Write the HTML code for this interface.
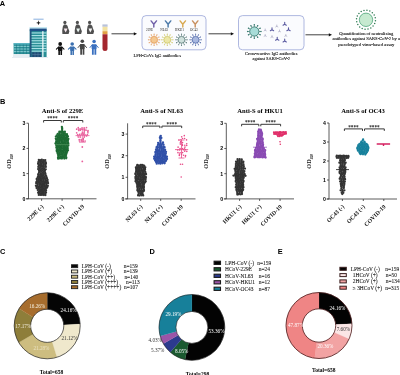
<!DOCTYPE html>
<html><head><meta charset="utf-8"><style>
html,body{margin:0;padding:0;background:#fff;width:400px;height:375px;overflow:hidden}
svg{display:block;filter:blur(0.25px)}
</style></head><body>
<svg width="400" height="375" viewBox="0 0 400 375">
<rect width="400" height="375" fill="#fff"/>
<text x="-0.3" y="5.9" font-size="7.4" fill="#000" font-weight="bold" font-family='"Liberation Sans", sans-serif' text-anchor="start" >A</text>
<text x="0" y="104.4" font-size="7.4" fill="#000" font-weight="bold" font-family='"Liberation Sans", sans-serif' text-anchor="start" >B</text>
<text x="0" y="253.9" font-size="7.4" fill="#000" font-weight="bold" font-family='"Liberation Sans", sans-serif' text-anchor="start" >C</text>
<text x="149.5" y="253.8" font-size="7.4" fill="#000" font-weight="bold" font-family='"Liberation Sans", sans-serif' text-anchor="start" >D</text>
<text x="277.8" y="254" font-size="7.4" fill="#000" font-weight="bold" font-family='"Liberation Sans", sans-serif' text-anchor="start" >E</text>
<rect x="13.6" y="43.2" width="18.8" height="11" fill="#2a8f96"/>
<rect x="13.6" y="43.2" width="18.8" height="1.3" fill="#5fb8c8"/>
<rect x="13.6" y="45.9" width="18.8" height="0.8" fill="#9fdce0"/>
<rect x="13.6" y="48.6" width="18.8" height="0.8" fill="#9fdce0"/>
<rect x="13.6" y="51.3" width="18.8" height="0.8" fill="#9fdce0"/>
<rect x="16.5" y="44.5" width="0.5" height="9.7" fill="#1a6f80"/>
<rect x="19.7" y="44.5" width="0.5" height="9.7" fill="#1a6f80"/>
<rect x="22.9" y="44.5" width="0.5" height="9.7" fill="#1a6f80"/>
<rect x="26.1" y="44.5" width="0.5" height="9.7" fill="#1a6f80"/>
<rect x="29.3" y="44.5" width="0.5" height="9.7" fill="#1a6f80"/>
<rect x="13" y="54.2" width="20" height="2.8" fill="#e6eef2"/>
<rect x="29.8" y="29.3" width="16.8" height="27.7" fill="#2a8f96"/>
<rect x="29.8" y="29.3" width="1.8" height="27.7" fill="#24557e"/>
<rect x="29.5" y="27.4" width="17.5" height="1.2" fill="#9fd8e8"/>
<rect x="29.8" y="28.6" width="16.8" height="2.6" fill="#1f4f86"/>
<rect x="31.6" y="32.4" width="15" height="1.1" fill="#a8e0e4"/>
<rect x="31.6" y="35.0" width="15" height="1.1" fill="#a8e0e4"/>
<rect x="31.6" y="37.6" width="15" height="1.1" fill="#a8e0e4"/>
<rect x="31.6" y="40.2" width="15" height="1.1" fill="#a8e0e4"/>
<rect x="31.6" y="42.8" width="15" height="1.1" fill="#a8e0e4"/>
<rect x="31.6" y="45.4" width="15" height="1.1" fill="#a8e0e4"/>
<rect x="31.6" y="48.0" width="15" height="1.1" fill="#a8e0e4"/>
<rect x="31.6" y="50.599999999999994" width="15" height="1.1" fill="#a8e0e4"/>
<rect x="42.2" y="31.2" width="1.3" height="25.8" fill="#eef8fa"/>
<rect x="32.2" y="52.2" width="9" height="4.8" fill="#1f4a74"/>
<path d="M35 52.2 v4.8 M38 52.2 v4.8 M32.2 54.5 h9" stroke="#6a90b0" stroke-width="0.4"/>
<path d="M33.4 19.2 h10.2" stroke="#6a9ad8" stroke-width="0.8"/>
<path d="M38.5 21.2 l1.3 1.6 l-1.3 1.6 l-1.3 -1.6z" fill="#222"/>
<path d="M36.4 22.8 h4.2 M38.5 20.6 v4.4" stroke="#222" stroke-width="0.5"/>
<rect x="12" y="57" width="36" height="0.7" fill="#dde6ee"/>
<ellipse cx="64.9" cy="22.4" rx="1.6" ry="1.75" fill="#505050"/>
<path d="M64.0 24.4 L66.0 24.4 L67.5 25.8 L68.2 28.3 L69.4 31.2 L68.60000000000001 34.1 L62.400000000000006 34.1 L62.2 30.5 L62.900000000000006 26.2 Z" fill="#505050"/>
<path d="M63.800000000000004 28.6 L67.5 28.6 L66.7 30.6 L65.60000000000001 32.6 L64.60000000000001 30.6 Z" fill="#f8e8ee"/>
<ellipse cx="77.4" cy="22.4" rx="1.6" ry="1.75" fill="#505050"/>
<path d="M76.5 24.4 L78.5 24.4 L80.0 25.8 L80.7 28.3 L81.9 31.2 L81.10000000000001 34.1 L74.9 34.1 L74.7 30.5 L75.4 26.2 Z" fill="#505050"/>
<path d="M76.30000000000001 28.6 L80.0 28.6 L79.2 30.6 L78.10000000000001 32.6 L77.10000000000001 30.6 Z" fill="#eaf6f2"/>
<ellipse cx="89.6" cy="22.4" rx="1.6" ry="1.75" fill="#505050"/>
<path d="M88.69999999999999 24.4 L90.69999999999999 24.4 L92.19999999999999 25.8 L92.89999999999999 28.3 L94.1 31.2 L93.3 34.1 L87.1 34.1 L86.89999999999999 30.5 L87.6 26.2 Z" fill="#505050"/>
<path d="M88.5 28.6 L92.19999999999999 28.6 L91.39999999999999 30.6 L90.3 32.6 L89.3 30.6 Z" fill="#f6f6f6"/>
<g fill="#111"><circle cx="60.2" cy="44.0" r="1.9"/><rect x="58.0" y="46.4" width="4.4" height="4.600000000000001" rx="0.8"/><path d="M58.5 47.1 L56.400000000000006 49.2 M61.900000000000006 47.1 L64.0 49.2" stroke="#111" stroke-width="1.1" fill="none" stroke-linecap="round"/><rect x="58.35" y="50.5" width="1.584" height="4.5" rx="0.3"/><rect x="60.466" y="50.5" width="1.584" height="4.5" rx="0.3"/></g>
<g fill="#3a6fb0"><circle cx="72.2" cy="44.0" r="1.8"/><rect x="70.10000000000001" y="46.4" width="4.2" height="4.600000000000001" rx="0.8"/><path d="M70.60000000000001 47.1 L68.4 49.2 M73.8 47.1 L76.0 49.2" stroke="#3a6fb0" stroke-width="1.1" fill="none" stroke-linecap="round"/><rect x="70.45" y="50.5" width="1.512" height="4.5" rx="0.3"/><rect x="72.438" y="50.5" width="1.512" height="4.5" rx="0.3"/></g>
<g fill="#454545"><circle cx="82.3" cy="41.2" r="1.8"/><rect x="79.89999999999999" y="44.1" width="4.8" height="5.100000000000001" rx="0.8"/><path d="M80.39999999999999 44.800000000000004 L78.1 47.5 M84.2 44.800000000000004 L86.5 47.5" stroke="#454545" stroke-width="1.0" fill="none" stroke-linecap="round"/><rect x="80.24999999999999" y="48.7" width="1.728" height="6.0" rx="0.3"/><rect x="82.62200000000001" y="48.7" width="1.728" height="6.0" rx="0.3"/></g>
<g fill="#3a70c0"><circle cx="94.1" cy="41.5" r="1.8"/><rect x="91.6" y="44.3" width="5.0" height="4.900000000000006" rx="0.8"/><path d="M92.1 45.0 L90.0 47.5 M96.1 45.0 L98.19999999999999 47.5" stroke="#3a70c0" stroke-width="1.0" fill="none" stroke-linecap="round"/><rect x="91.94999999999999" y="48.7" width="1.7999999999999998" height="6.0" rx="0.3"/><rect x="94.45" y="48.7" width="1.7999999999999998" height="6.0" rx="0.3"/></g>
<rect x="102.4" y="24.4" width="5.2" height="2.4" fill="#b8c2da"/>
<rect x="102.5" y="26.8" width="5" height="4.4" fill="#f2e2a2"/>
<rect x="102.5" y="31.2" width="5" height="3" fill="#e2a244"/>
<path d="M102.5 34.2 h5 v14.3 a2.5 2.5 0 0 1 -5 0z" fill="#a4262e"/>
<line x1="111.5" y1="33.8" x2="134.5" y2="33.8" stroke="#111" stroke-width="0.8"/><path d="M137 33.8 l-3.2 -1.6 v3.2z" fill="#111"/>
<line x1="208.5" y1="33.8" x2="231.5" y2="33.8" stroke="#111" stroke-width="0.8"/><path d="M234 33.8 l-3.2 -1.6 v3.2z" fill="#111"/>
<line x1="305.5" y1="34.8" x2="329.5" y2="34.8" stroke="#111" stroke-width="0.8"/><path d="M332 34.8 l-3.2 -1.6 v3.2z" fill="#111"/>
<rect x="142" y="15.6" width="64" height="34.2" rx="4" fill="#fafbfe" stroke="#9aa6d8" stroke-width="0.8"/>
<rect x="238.5" y="15.6" width="65.5" height="34.2" rx="4" fill="#fafbfe" stroke="#9aa6d8" stroke-width="0.8"/>
<path d="M151.10000000000002 20.9 L153.8 24.2 L156.5 20.9 M153.8 24.2 V27.099999999999998" stroke="#7060a8" stroke-width="1.45" fill="none" stroke-linecap="round" stroke-linejoin="round"/>
<text x="146.0" y="31.0" font-size="3.3" fill="#222" font-weight="normal" font-family='"Liberation Serif", serif' text-anchor="start" >229E</text>
<path d="M165.4 20.9 L168.1 24.2 L170.79999999999998 20.9 M168.1 24.2 V27.099999999999998" stroke="#4a78a8" stroke-width="1.45" fill="none" stroke-linecap="round" stroke-linejoin="round"/>
<text x="160.29999999999998" y="31.0" font-size="3.3" fill="#222" font-weight="normal" font-family='"Liberation Serif", serif' text-anchor="start" >NL63</text>
<path d="M180.10000000000002 20.9 L182.8 24.2 L185.5 20.9 M182.8 24.2 V27.099999999999998" stroke="#d8a850" stroke-width="1.45" fill="none" stroke-linecap="round" stroke-linejoin="round"/>
<text x="175.0" y="31.0" font-size="3.3" fill="#222" font-weight="normal" font-family='"Liberation Serif", serif' text-anchor="start" >HKU1</text>
<path d="M192.5 20.9 L195.2 24.2 L197.89999999999998 20.9 M195.2 24.2 V27.099999999999998" stroke="#c89060" stroke-width="1.45" fill="none" stroke-linecap="round" stroke-linejoin="round"/>
<text x="189.89999999999998" y="31.0" font-size="3.3" fill="#222" font-weight="normal" font-family='"Liberation Serif", serif' text-anchor="start" >OC43</text>
<path d="M157.50 39.80 L159.80 39.80 M157.04 41.50 L159.04 42.65 M155.80 42.74 L156.95 44.74 M154.10 43.20 L154.10 45.50 M152.40 42.74 L151.25 44.74 M151.16 41.50 L149.16 42.65 M150.70 39.80 L148.40 39.80 M151.16 38.10 L149.16 36.95 M152.40 36.86 L151.25 34.86 M154.10 36.40 L154.10 34.10 M155.80 36.86 L156.95 34.86 M157.04 38.10 L159.04 36.95" stroke="#e39a5a" stroke-width="0.6" fill="none"/>
<circle cx="159.80" cy="39.80" r="0.55" fill="#e39a5a"/>
<circle cx="159.04" cy="42.65" r="0.55" fill="#e39a5a"/>
<circle cx="156.95" cy="44.74" r="0.55" fill="#e39a5a"/>
<circle cx="154.10" cy="45.50" r="0.55" fill="#e39a5a"/>
<circle cx="151.25" cy="44.74" r="0.55" fill="#e39a5a"/>
<circle cx="149.16" cy="42.65" r="0.55" fill="#e39a5a"/>
<circle cx="148.40" cy="39.80" r="0.55" fill="#e39a5a"/>
<circle cx="149.16" cy="36.95" r="0.55" fill="#e39a5a"/>
<circle cx="151.25" cy="34.86" r="0.55" fill="#e39a5a"/>
<circle cx="154.10" cy="34.10" r="0.55" fill="#e39a5a"/>
<circle cx="156.95" cy="34.86" r="0.55" fill="#e39a5a"/>
<circle cx="159.04" cy="36.95" r="0.55" fill="#e39a5a"/>
<circle cx="154.1" cy="39.8" r="3.4" fill="#f4c890" stroke="#e39a5a" stroke-width="0.78"/>
<path d="M170.70 39.80 L173.00 39.80 M170.24 41.50 L172.24 42.65 M169.00 42.74 L170.15 44.74 M167.30 43.20 L167.30 45.50 M165.60 42.74 L164.45 44.74 M164.36 41.50 L162.36 42.65 M163.90 39.80 L161.60 39.80 M164.36 38.10 L162.36 36.95 M165.60 36.86 L164.45 34.86 M167.30 36.40 L167.30 34.10 M169.00 36.86 L170.15 34.86 M170.24 38.10 L172.24 36.95" stroke="#cfc86a" stroke-width="0.6" fill="none"/>
<circle cx="173.00" cy="39.80" r="0.55" fill="#cfc86a"/>
<circle cx="172.24" cy="42.65" r="0.55" fill="#cfc86a"/>
<circle cx="170.15" cy="44.74" r="0.55" fill="#cfc86a"/>
<circle cx="167.30" cy="45.50" r="0.55" fill="#cfc86a"/>
<circle cx="164.45" cy="44.74" r="0.55" fill="#cfc86a"/>
<circle cx="162.36" cy="42.65" r="0.55" fill="#cfc86a"/>
<circle cx="161.60" cy="39.80" r="0.55" fill="#cfc86a"/>
<circle cx="162.36" cy="36.95" r="0.55" fill="#cfc86a"/>
<circle cx="164.45" cy="34.86" r="0.55" fill="#cfc86a"/>
<circle cx="167.30" cy="34.10" r="0.55" fill="#cfc86a"/>
<circle cx="170.15" cy="34.86" r="0.55" fill="#cfc86a"/>
<circle cx="172.24" cy="36.95" r="0.55" fill="#cfc86a"/>
<circle cx="167.3" cy="39.8" r="3.4" fill="#ece7a8" stroke="#cfc86a" stroke-width="0.78"/>
<path d="M184.90 39.80 L187.20 39.80 M184.44 41.50 L186.44 42.65 M183.20 42.74 L184.35 44.74 M181.50 43.20 L181.50 45.50 M179.80 42.74 L178.65 44.74 M178.56 41.50 L176.56 42.65 M178.10 39.80 L175.80 39.80 M178.56 38.10 L176.56 36.95 M179.80 36.86 L178.65 34.86 M181.50 36.40 L181.50 34.10 M183.20 36.86 L184.35 34.86 M184.44 38.10 L186.44 36.95" stroke="#5a7a78" stroke-width="0.6" fill="none"/>
<circle cx="187.20" cy="39.80" r="0.55" fill="#5a7a78"/>
<circle cx="186.44" cy="42.65" r="0.55" fill="#5a7a78"/>
<circle cx="184.35" cy="44.74" r="0.55" fill="#5a7a78"/>
<circle cx="181.50" cy="45.50" r="0.55" fill="#5a7a78"/>
<circle cx="178.65" cy="44.74" r="0.55" fill="#5a7a78"/>
<circle cx="176.56" cy="42.65" r="0.55" fill="#5a7a78"/>
<circle cx="175.80" cy="39.80" r="0.55" fill="#5a7a78"/>
<circle cx="176.56" cy="36.95" r="0.55" fill="#5a7a78"/>
<circle cx="178.65" cy="34.86" r="0.55" fill="#5a7a78"/>
<circle cx="181.50" cy="34.10" r="0.55" fill="#5a7a78"/>
<circle cx="184.35" cy="34.86" r="0.55" fill="#5a7a78"/>
<circle cx="186.44" cy="36.95" r="0.55" fill="#5a7a78"/>
<circle cx="181.5" cy="39.8" r="3.4" fill="#cfe0dc" stroke="#5a7a78" stroke-width="0.78"/>
<path d="M199.00 39.80 L201.30 39.80 M198.54 41.50 L200.54 42.65 M197.30 42.74 L198.45 44.74 M195.60 43.20 L195.60 45.50 M193.90 42.74 L192.75 44.74 M192.66 41.50 L190.66 42.65 M192.20 39.80 L189.90 39.80 M192.66 38.10 L190.66 36.95 M193.90 36.86 L192.75 34.86 M195.60 36.40 L195.60 34.10 M197.30 36.86 L198.45 34.86 M198.54 38.10 L200.54 36.95" stroke="#5068a8" stroke-width="0.6" fill="none"/>
<circle cx="201.30" cy="39.80" r="0.55" fill="#5068a8"/>
<circle cx="200.54" cy="42.65" r="0.55" fill="#5068a8"/>
<circle cx="198.45" cy="44.74" r="0.55" fill="#5068a8"/>
<circle cx="195.60" cy="45.50" r="0.55" fill="#5068a8"/>
<circle cx="192.75" cy="44.74" r="0.55" fill="#5068a8"/>
<circle cx="190.66" cy="42.65" r="0.55" fill="#5068a8"/>
<circle cx="189.90" cy="39.80" r="0.55" fill="#5068a8"/>
<circle cx="190.66" cy="36.95" r="0.55" fill="#5068a8"/>
<circle cx="192.75" cy="34.86" r="0.55" fill="#5068a8"/>
<circle cx="195.60" cy="34.10" r="0.55" fill="#5068a8"/>
<circle cx="198.45" cy="34.86" r="0.55" fill="#5068a8"/>
<circle cx="200.54" cy="36.95" r="0.55" fill="#5068a8"/>
<circle cx="195.6" cy="39.8" r="3.4" fill="#a8b8e0" stroke="#5068a8" stroke-width="0.78"/>
<text x="133.6" y="57.3" font-size="4.45" fill="#000" font-weight="normal" font-family='"Liberation Serif", serif' text-anchor="start" stroke="#000" stroke-width="0.08">LPH-CoVs IgG antibodies</text>
<path d="M258.90 31.50 L261.00 31.50 M258.28 33.80 L260.10 34.85 M256.60 35.48 L257.65 37.30 M254.30 36.10 L254.30 38.20 M252.00 35.48 L250.95 37.30 M250.32 33.80 L248.50 34.85 M249.70 31.50 L247.60 31.50 M250.32 29.20 L248.50 28.15 M252.00 27.52 L250.95 25.70 M254.30 26.90 L254.30 24.80 M256.60 27.52 L257.65 25.70 M258.28 29.20 L260.10 28.15" stroke="#3a7a70" stroke-width="0.7" fill="none"/>
<circle cx="261.00" cy="31.50" r="0.75" fill="#3a7a70"/>
<circle cx="260.10" cy="34.85" r="0.75" fill="#3a7a70"/>
<circle cx="257.65" cy="37.30" r="0.75" fill="#3a7a70"/>
<circle cx="254.30" cy="38.20" r="0.75" fill="#3a7a70"/>
<circle cx="250.95" cy="37.30" r="0.75" fill="#3a7a70"/>
<circle cx="248.50" cy="34.85" r="0.75" fill="#3a7a70"/>
<circle cx="247.60" cy="31.50" r="0.75" fill="#3a7a70"/>
<circle cx="248.50" cy="28.15" r="0.75" fill="#3a7a70"/>
<circle cx="250.95" cy="25.70" r="0.75" fill="#3a7a70"/>
<circle cx="254.30" cy="24.80" r="0.75" fill="#3a7a70"/>
<circle cx="257.65" cy="25.70" r="0.75" fill="#3a7a70"/>
<circle cx="260.10" cy="28.15" r="0.75" fill="#3a7a70"/>
<circle cx="254.3" cy="31.5" r="4.6" fill="#a8dcd8" stroke="#3a7a70" stroke-width="0.9099999999999999"/>
<path d="M265.20 30.20 L265.20 28.93 M265.20 30.20 L266.30 30.83 M265.20 30.20 L264.10 30.83" stroke="#b0b0c8" stroke-width="0.73" stroke-linecap="round" fill="none"/>
<path d="M272.00 29.70 L272.00 27.80 M272.00 29.70 L273.65 30.65 M272.00 29.70 L270.35 30.65" stroke="#5a5aa0" stroke-width="1.10" stroke-linecap="round" fill="none"/>
<path d="M276.80 26.30 L276.80 25.03 M276.80 26.30 L277.90 26.93 M276.80 26.30 L275.70 26.93" stroke="#b0b0c8" stroke-width="0.73" stroke-linecap="round" fill="none"/>
<path d="M284.70 24.20 L284.70 22.30 M284.70 24.20 L286.35 25.15 M284.70 24.20 L283.05 25.15" stroke="#5a5aa0" stroke-width="1.10" stroke-linecap="round" fill="none"/>
<path d="M279.50 31.20 L279.50 29.93 M279.50 31.20 L280.60 31.83 M279.50 31.20 L278.40 31.83" stroke="#b0b0c8" stroke-width="0.73" stroke-linecap="round" fill="none"/>
<path d="M288.50 29.70 L288.50 27.80 M288.50 29.70 L290.15 30.65 M288.50 29.70 L286.85 30.65" stroke="#5a5aa0" stroke-width="1.10" stroke-linecap="round" fill="none"/>
<path d="M265.20 35.70 L265.20 34.43 M265.20 35.70 L266.30 36.33 M265.20 35.70 L264.10 36.33" stroke="#b0b0c8" stroke-width="0.73" stroke-linecap="round" fill="none"/>
<path d="M272.00 36.80 L272.00 35.53 M272.00 36.80 L273.10 37.43 M272.00 36.80 L270.90 37.43" stroke="#b0b0c8" stroke-width="0.73" stroke-linecap="round" fill="none"/>
<path d="M277.20 39.20 L277.20 37.30 M277.20 39.20 L278.85 40.15 M277.20 39.20 L275.55 40.15" stroke="#5a5aa0" stroke-width="1.10" stroke-linecap="round" fill="none"/>
<path d="M285.80 35.70 L285.80 34.43 M285.80 35.70 L286.90 36.33 M285.80 35.70 L284.70 36.33" stroke="#b0b0c8" stroke-width="0.73" stroke-linecap="round" fill="none"/>
<path d="M284.70 41.00 L284.70 39.10 M284.70 41.00 L286.35 41.95 M284.70 41.00 L283.05 41.95" stroke="#5a5aa0" stroke-width="1.10" stroke-linecap="round" fill="none"/>
<text x="271.3" y="54.8" font-size="4.4" fill="#000" font-weight="normal" font-family='"Liberation Serif", serif' text-anchor="middle" stroke="#000" stroke-width="0.08">Cross-reactive IgG antibodies</text>
<text x="271.3" y="60.2" font-size="4.4" fill="#000" font-weight="normal" font-family='"Liberation Serif", serif' text-anchor="middle" stroke="#000" stroke-width="0.08">against SARS-CoV-2</text>
<circle cx="366" cy="19.8" r="6.7" fill="#c6ead0" stroke="#3a9a6a" stroke-width="0.7"/>
<circle cx="375.45" cy="20.75" r="0.75" fill="#2f7a52"/>
<circle cx="374.70" cy="23.62" r="0.75" fill="#2f7a52"/>
<circle cx="373.09" cy="26.12" r="0.75" fill="#2f7a52"/>
<circle cx="370.79" cy="28.00" r="0.75" fill="#2f7a52"/>
<circle cx="368.02" cy="29.08" r="0.75" fill="#2f7a52"/>
<circle cx="365.05" cy="29.25" r="0.75" fill="#2f7a52"/>
<circle cx="362.18" cy="28.50" r="0.75" fill="#2f7a52"/>
<circle cx="359.68" cy="26.89" r="0.75" fill="#2f7a52"/>
<circle cx="357.80" cy="24.59" r="0.75" fill="#2f7a52"/>
<circle cx="356.72" cy="21.82" r="0.75" fill="#2f7a52"/>
<circle cx="356.55" cy="18.85" r="0.75" fill="#2f7a52"/>
<circle cx="357.30" cy="15.98" r="0.75" fill="#2f7a52"/>
<circle cx="358.91" cy="13.48" r="0.75" fill="#2f7a52"/>
<circle cx="361.21" cy="11.60" r="0.75" fill="#2f7a52"/>
<circle cx="363.98" cy="10.52" r="0.75" fill="#2f7a52"/>
<circle cx="366.95" cy="10.35" r="0.75" fill="#2f7a52"/>
<circle cx="369.82" cy="11.10" r="0.75" fill="#2f7a52"/>
<circle cx="372.32" cy="12.71" r="0.75" fill="#2f7a52"/>
<circle cx="374.20" cy="15.01" r="0.75" fill="#2f7a52"/>
<circle cx="375.28" cy="17.78" r="0.75" fill="#2f7a52"/>
<text x="366.2" y="34.7" font-size="4.55" fill="#000" font-weight="normal" font-family='"Liberation Serif", serif' text-anchor="middle" stroke="#000" stroke-width="0.08">Quantification of neutralizing</text>
<text x="366.2" y="40.3" font-size="4.55" fill="#000" font-weight="normal" font-family='"Liberation Serif", serif' text-anchor="middle" stroke="#000" stroke-width="0.08">antibodies against SARS-CoV-2 by a</text>
<text x="366.2" y="45.9" font-size="4.55" fill="#000" font-weight="normal" font-family='"Liberation Serif", serif' text-anchor="middle" stroke="#000" stroke-width="0.08">pseudotyped virus-based assay</text>
<path d="M28.5 123.3 V198.8 M26.0 198.8 H96.5" stroke="#333" stroke-width="0.8" fill="none"/>
<line x1="26.5" y1="198.8" x2="28.5" y2="198.8" stroke="#333" stroke-width="0.8"/>
<text x="25.3" y="200.70000000000002" font-size="5.2" fill="#000" font-weight="bold" font-family='"Liberation Sans", sans-serif' text-anchor="end" >0</text>
<line x1="26.5" y1="173.60000000000002" x2="28.5" y2="173.60000000000002" stroke="#333" stroke-width="0.8"/>
<text x="25.3" y="175.50000000000003" font-size="5.2" fill="#000" font-weight="bold" font-family='"Liberation Sans", sans-serif' text-anchor="end" >1</text>
<line x1="26.5" y1="148.4" x2="28.5" y2="148.4" stroke="#333" stroke-width="0.8"/>
<text x="25.3" y="150.3" font-size="5.2" fill="#000" font-weight="bold" font-family='"Liberation Sans", sans-serif' text-anchor="end" >2</text>
<line x1="26.5" y1="123.20000000000002" x2="28.5" y2="123.20000000000002" stroke="#333" stroke-width="0.8"/>
<text x="25.3" y="125.10000000000002" font-size="5.2" fill="#000" font-weight="bold" font-family='"Liberation Sans", sans-serif' text-anchor="end" >3</text>
<line x1="41.6" y1="198.8" x2="41.6" y2="200.8" stroke="#333" stroke-width="0.8"/>
<line x1="62.1" y1="198.8" x2="62.1" y2="200.8" stroke="#333" stroke-width="0.8"/>
<line x1="82.3" y1="198.8" x2="82.3" y2="200.8" stroke="#333" stroke-width="0.8"/>
<text x="62.5" y="113.2" font-size="6.6" fill="#000" font-weight="bold" font-family='"Liberation Serif", serif' text-anchor="middle" >Anti-S of 229E</text>
<path d="M43.6 122.5 V120.5 H61.300000000000004 V122.5" stroke="#222" stroke-width="0.9" fill="none"/>
<text x="52.45" y="120.1" font-size="5.2" fill="#222" font-weight="bold" font-family='"Liberation Serif", serif' text-anchor="middle" >****</text>
<path d="M63.300000000000004 122.5 V120.5 H82.8 V122.5" stroke="#222" stroke-width="0.9" fill="none"/>
<text x="73.05" y="120.1" font-size="5.2" fill="#222" font-weight="bold" font-family='"Liberation Serif", serif' text-anchor="middle" >****</text>
<text transform="translate(43.800000000000004,207.0) rotate(-45)" font-size="5.9" font-weight="bold" font-family='"Liberation Serif", serif' text-anchor="end" fill="#111">229E (-)</text>
<text transform="translate(64.3,207.0) rotate(-45)" font-size="5.9" font-weight="bold" font-family='"Liberation Serif", serif' text-anchor="end" fill="#111">229E (+)</text>
<text transform="translate(84.5,207.0) rotate(-45)" font-size="5.9" font-weight="bold" font-family='"Liberation Serif", serif' text-anchor="end" fill="#111">COVID-19</text>
<text transform="translate(11.2,161.3) rotate(-90)" font-size="6.3" font-weight="bold" font-family='"Liberation Serif", serif' text-anchor="middle" fill="#111">OD<tspan font-size="3.5" dy="1.3">450</tspan></text>
<g fill="#333333"><circle cx="38.83" cy="159.88" r="1.15"/><circle cx="40.33" cy="160.08" r="1.15"/><circle cx="41.80" cy="159.77" r="1.15"/><circle cx="43.61" cy="160.14" r="1.15"/><circle cx="45.27" cy="160.12" r="1.15"/><circle cx="39.10" cy="160.93" r="1.15"/><circle cx="40.47" cy="161.39" r="1.15"/><circle cx="41.86" cy="161.13" r="1.15"/><circle cx="43.41" cy="161.14" r="1.15"/><circle cx="44.97" cy="161.03" r="1.15"/><circle cx="38.29" cy="162.09" r="1.15"/><circle cx="40.23" cy="162.40" r="1.15"/><circle cx="42.25" cy="162.51" r="1.15"/><circle cx="43.72" cy="162.44" r="1.15"/><circle cx="45.82" cy="162.29" r="1.15"/><circle cx="38.08" cy="163.54" r="1.15"/><circle cx="40.26" cy="163.50" r="1.15"/><circle cx="41.77" cy="163.36" r="1.15"/><circle cx="43.87" cy="163.33" r="1.15"/><circle cx="45.92" cy="163.58" r="1.15"/><circle cx="38.57" cy="164.79" r="1.15"/><circle cx="40.23" cy="164.65" r="1.15"/><circle cx="41.77" cy="164.76" r="1.15"/><circle cx="43.77" cy="164.60" r="1.15"/><circle cx="45.44" cy="164.90" r="1.15"/><circle cx="39.05" cy="165.68" r="1.15"/><circle cx="40.66" cy="165.86" r="1.15"/><circle cx="41.88" cy="165.84" r="1.15"/><circle cx="43.32" cy="165.96" r="1.15"/><circle cx="45.32" cy="165.94" r="1.15"/><circle cx="38.28" cy="166.94" r="1.15"/><circle cx="40.31" cy="167.01" r="1.15"/><circle cx="42.00" cy="166.97" r="1.15"/><circle cx="43.80" cy="167.00" r="1.15"/><circle cx="45.80" cy="166.96" r="1.15"/><circle cx="39.53" cy="168.18" r="1.15"/><circle cx="42.15" cy="168.29" r="1.15"/><circle cx="44.19" cy="168.31" r="1.15"/><circle cx="38.10" cy="169.06" r="1.15"/><circle cx="40.05" cy="169.11" r="1.15"/><circle cx="41.92" cy="169.09" r="1.15"/><circle cx="43.84" cy="169.14" r="1.15"/><circle cx="45.76" cy="169.28" r="1.15"/><circle cx="39.01" cy="170.41" r="1.15"/><circle cx="40.93" cy="170.27" r="1.15"/><circle cx="42.92" cy="170.32" r="1.15"/><circle cx="44.91" cy="170.23" r="1.15"/><circle cx="39.29" cy="171.46" r="1.15"/><circle cx="41.15" cy="171.65" r="1.15"/><circle cx="43.18" cy="171.78" r="1.15"/><circle cx="44.68" cy="171.70" r="1.15"/><circle cx="38.97" cy="172.86" r="1.15"/><circle cx="40.92" cy="173.03" r="1.15"/><circle cx="42.88" cy="172.97" r="1.15"/><circle cx="45.16" cy="172.91" r="1.15"/><circle cx="38.26" cy="174.14" r="1.15"/><circle cx="40.41" cy="174.19" r="1.15"/><circle cx="41.84" cy="174.14" r="1.15"/><circle cx="43.85" cy="173.96" r="1.15"/><circle cx="45.42" cy="173.81" r="1.15"/><circle cx="38.40" cy="174.92" r="1.15"/><circle cx="40.18" cy="175.12" r="1.15"/><circle cx="42.19" cy="175.32" r="1.15"/><circle cx="43.57" cy="175.03" r="1.15"/><circle cx="45.58" cy="175.04" r="1.15"/><circle cx="38.11" cy="176.50" r="1.15"/><circle cx="39.76" cy="176.37" r="1.15"/><circle cx="41.43" cy="176.15" r="1.15"/><circle cx="42.60" cy="176.11" r="1.15"/><circle cx="44.29" cy="176.41" r="1.15"/><circle cx="46.23" cy="176.21" r="1.15"/><circle cx="37.66" cy="177.49" r="1.15"/><circle cx="39.48" cy="177.26" r="1.15"/><circle cx="40.90" cy="177.21" r="1.15"/><circle cx="43.09" cy="177.59" r="1.15"/><circle cx="44.64" cy="177.50" r="1.15"/><circle cx="46.46" cy="177.48" r="1.15"/><circle cx="36.72" cy="178.80" r="1.15"/><circle cx="38.77" cy="178.58" r="1.15"/><circle cx="40.42" cy="178.77" r="1.15"/><circle cx="42.09" cy="178.40" r="1.15"/><circle cx="43.91" cy="178.38" r="1.15"/><circle cx="45.69" cy="178.57" r="1.15"/><circle cx="47.00" cy="178.48" r="1.15"/><circle cx="36.85" cy="179.71" r="1.15"/><circle cx="38.64" cy="179.66" r="1.15"/><circle cx="40.21" cy="179.57" r="1.15"/><circle cx="41.77" cy="179.52" r="1.15"/><circle cx="43.68" cy="179.82" r="1.15"/><circle cx="45.47" cy="179.55" r="1.15"/><circle cx="47.59" cy="180.00" r="1.15"/><circle cx="37.06" cy="181.17" r="1.15"/><circle cx="38.76" cy="181.01" r="1.15"/><circle cx="40.35" cy="180.83" r="1.15"/><circle cx="41.79" cy="180.82" r="1.15"/><circle cx="43.64" cy="181.01" r="1.15"/><circle cx="45.55" cy="180.88" r="1.15"/><circle cx="46.91" cy="180.84" r="1.15"/><circle cx="36.43" cy="182.01" r="1.15"/><circle cx="38.13" cy="182.14" r="1.15"/><circle cx="39.42" cy="181.96" r="1.15"/><circle cx="41.24" cy="181.88" r="1.15"/><circle cx="42.85" cy="181.99" r="1.15"/><circle cx="44.34" cy="182.27" r="1.15"/><circle cx="45.91" cy="182.24" r="1.15"/><circle cx="47.70" cy="181.93" r="1.15"/><circle cx="36.20" cy="183.16" r="1.15"/><circle cx="37.75" cy="183.46" r="1.15"/><circle cx="39.64" cy="183.08" r="1.15"/><circle cx="40.91" cy="183.16" r="1.15"/><circle cx="43.00" cy="183.46" r="1.15"/><circle cx="44.68" cy="183.35" r="1.15"/><circle cx="46.22" cy="183.08" r="1.15"/><circle cx="48.04" cy="183.13" r="1.15"/><circle cx="37.60" cy="184.44" r="1.15"/><circle cx="39.44" cy="184.39" r="1.15"/><circle cx="41.01" cy="184.30" r="1.15"/><circle cx="42.98" cy="184.38" r="1.15"/><circle cx="44.51" cy="184.34" r="1.15"/><circle cx="46.37" cy="184.30" r="1.15"/><circle cx="35.92" cy="185.64" r="1.15"/><circle cx="37.44" cy="185.59" r="1.15"/><circle cx="39.49" cy="185.55" r="1.15"/><circle cx="41.25" cy="185.45" r="1.15"/><circle cx="42.85" cy="185.44" r="1.15"/><circle cx="44.62" cy="185.78" r="1.15"/><circle cx="46.20" cy="185.65" r="1.15"/><circle cx="47.82" cy="185.59" r="1.15"/><circle cx="36.63" cy="186.93" r="1.15"/><circle cx="38.16" cy="186.92" r="1.15"/><circle cx="39.74" cy="186.86" r="1.15"/><circle cx="41.39" cy="186.94" r="1.15"/><circle cx="42.82" cy="186.58" r="1.15"/><circle cx="44.22" cy="186.78" r="1.15"/><circle cx="45.71" cy="186.83" r="1.15"/><circle cx="47.43" cy="186.75" r="1.15"/><circle cx="36.69" cy="188.15" r="1.15"/><circle cx="38.68" cy="187.79" r="1.15"/><circle cx="40.54" cy="187.72" r="1.15"/><circle cx="42.17" cy="187.98" r="1.15"/><circle cx="43.66" cy="188.12" r="1.15"/><circle cx="45.33" cy="188.06" r="1.15"/><circle cx="46.91" cy="187.82" r="1.15"/><circle cx="38.24" cy="188.88" r="1.15"/><circle cx="39.56" cy="188.88" r="1.15"/><circle cx="41.08" cy="189.19" r="1.15"/><circle cx="42.64" cy="189.04" r="1.15"/><circle cx="44.46" cy="189.12" r="1.15"/><circle cx="45.84" cy="188.96" r="1.15"/><circle cx="37.76" cy="190.11" r="1.15"/><circle cx="39.58" cy="190.38" r="1.15"/><circle cx="41.17" cy="190.23" r="1.15"/><circle cx="42.99" cy="190.27" r="1.15"/><circle cx="44.46" cy="190.03" r="1.15"/><circle cx="46.09" cy="190.35" r="1.15"/><circle cx="38.89" cy="191.63" r="1.15"/><circle cx="40.38" cy="191.43" r="1.15"/><circle cx="42.00" cy="191.32" r="1.15"/><circle cx="43.37" cy="191.36" r="1.15"/><circle cx="45.14" cy="191.34" r="1.15"/><circle cx="38.14" cy="192.63" r="1.15"/><circle cx="39.92" cy="192.31" r="1.15"/><circle cx="42.05" cy="192.75" r="1.15"/><circle cx="43.93" cy="192.80" r="1.15"/><circle cx="46.02" cy="192.51" r="1.15"/><circle cx="38.89" cy="193.55" r="1.15"/><circle cx="41.01" cy="193.65" r="1.15"/><circle cx="42.95" cy="193.68" r="1.15"/><circle cx="45.19" cy="193.76" r="1.15"/><circle cx="38.80" cy="194.88" r="1.15"/><circle cx="40.41" cy="194.95" r="1.15"/><circle cx="41.95" cy="194.94" r="1.15"/><circle cx="43.88" cy="195.02" r="1.15"/><circle cx="45.45" cy="195.04" r="1.15"/></g>
<g fill="#1d6b33"><circle cx="61.88" cy="126.90" r="1.15"/><circle cx="62.18" cy="128.17" r="1.15"/><circle cx="62.14" cy="129.26" r="1.15"/><circle cx="62.21" cy="130.84" r="1.15"/><circle cx="59.35" cy="131.64" r="1.15"/><circle cx="60.95" cy="131.74" r="1.15"/><circle cx="62.95" cy="131.95" r="1.15"/><circle cx="64.86" cy="131.62" r="1.15"/><circle cx="59.32" cy="132.92" r="1.15"/><circle cx="61.32" cy="132.76" r="1.15"/><circle cx="63.11" cy="133.03" r="1.15"/><circle cx="64.83" cy="133.06" r="1.15"/><circle cx="57.70" cy="133.91" r="1.15"/><circle cx="59.43" cy="134.06" r="1.15"/><circle cx="61.17" cy="134.29" r="1.15"/><circle cx="63.19" cy="134.01" r="1.15"/><circle cx="65.08" cy="134.06" r="1.15"/><circle cx="66.94" cy="134.19" r="1.15"/><circle cx="56.76" cy="135.34" r="1.15"/><circle cx="58.80" cy="135.13" r="1.15"/><circle cx="60.26" cy="135.47" r="1.15"/><circle cx="62.10" cy="135.25" r="1.15"/><circle cx="63.89" cy="135.15" r="1.15"/><circle cx="65.61" cy="135.46" r="1.15"/><circle cx="67.14" cy="135.40" r="1.15"/><circle cx="55.86" cy="136.53" r="1.15"/><circle cx="57.83" cy="136.29" r="1.15"/><circle cx="59.68" cy="136.21" r="1.15"/><circle cx="61.41" cy="136.28" r="1.15"/><circle cx="63.16" cy="136.37" r="1.15"/><circle cx="64.47" cy="136.34" r="1.15"/><circle cx="66.53" cy="136.20" r="1.15"/><circle cx="67.95" cy="136.52" r="1.15"/><circle cx="57.55" cy="137.40" r="1.15"/><circle cx="59.06" cy="137.51" r="1.15"/><circle cx="60.78" cy="137.39" r="1.15"/><circle cx="62.02" cy="137.63" r="1.15"/><circle cx="63.47" cy="137.49" r="1.15"/><circle cx="65.21" cy="137.70" r="1.15"/><circle cx="67.01" cy="137.70" r="1.15"/><circle cx="55.80" cy="138.59" r="1.15"/><circle cx="57.30" cy="138.53" r="1.15"/><circle cx="59.15" cy="138.54" r="1.15"/><circle cx="60.48" cy="138.74" r="1.15"/><circle cx="62.33" cy="138.61" r="1.15"/><circle cx="63.63" cy="138.49" r="1.15"/><circle cx="65.06" cy="138.51" r="1.15"/><circle cx="66.64" cy="138.53" r="1.15"/><circle cx="68.39" cy="138.97" r="1.15"/><circle cx="56.19" cy="139.86" r="1.15"/><circle cx="58.02" cy="139.95" r="1.15"/><circle cx="59.73" cy="139.77" r="1.15"/><circle cx="61.29" cy="139.64" r="1.15"/><circle cx="62.88" cy="139.70" r="1.15"/><circle cx="64.44" cy="139.69" r="1.15"/><circle cx="66.09" cy="139.75" r="1.15"/><circle cx="67.86" cy="139.80" r="1.15"/><circle cx="56.34" cy="141.29" r="1.15"/><circle cx="57.81" cy="141.06" r="1.15"/><circle cx="59.32" cy="141.01" r="1.15"/><circle cx="61.09" cy="140.85" r="1.15"/><circle cx="62.89" cy="141.06" r="1.15"/><circle cx="64.71" cy="140.95" r="1.15"/><circle cx="66.30" cy="140.81" r="1.15"/><circle cx="67.86" cy="140.96" r="1.15"/><circle cx="56.19" cy="142.19" r="1.15"/><circle cx="58.05" cy="142.07" r="1.15"/><circle cx="59.46" cy="142.11" r="1.15"/><circle cx="61.51" cy="142.01" r="1.15"/><circle cx="62.76" cy="142.25" r="1.15"/><circle cx="64.51" cy="142.34" r="1.15"/><circle cx="65.96" cy="142.03" r="1.15"/><circle cx="67.94" cy="142.29" r="1.15"/><circle cx="55.44" cy="143.46" r="1.15"/><circle cx="57.40" cy="143.38" r="1.15"/><circle cx="58.87" cy="143.53" r="1.15"/><circle cx="60.51" cy="143.37" r="1.15"/><circle cx="62.25" cy="143.60" r="1.15"/><circle cx="63.60" cy="143.25" r="1.15"/><circle cx="65.19" cy="143.34" r="1.15"/><circle cx="67.13" cy="143.42" r="1.15"/><circle cx="68.32" cy="143.31" r="1.15"/><circle cx="56.21" cy="144.33" r="1.15"/><circle cx="58.12" cy="144.79" r="1.15"/><circle cx="59.41" cy="144.44" r="1.15"/><circle cx="61.35" cy="144.63" r="1.15"/><circle cx="62.95" cy="144.35" r="1.15"/><circle cx="64.83" cy="144.67" r="1.15"/><circle cx="66.28" cy="144.65" r="1.15"/><circle cx="68.14" cy="144.52" r="1.15"/><circle cx="56.29" cy="145.85" r="1.15"/><circle cx="57.60" cy="145.68" r="1.15"/><circle cx="59.55" cy="145.90" r="1.15"/><circle cx="61.24" cy="145.70" r="1.15"/><circle cx="63.07" cy="145.92" r="1.15"/><circle cx="64.68" cy="145.94" r="1.15"/><circle cx="66.55" cy="145.78" r="1.15"/><circle cx="68.33" cy="145.57" r="1.15"/><circle cx="56.78" cy="147.11" r="1.15"/><circle cx="58.25" cy="146.85" r="1.15"/><circle cx="60.49" cy="146.94" r="1.15"/><circle cx="61.86" cy="147.09" r="1.15"/><circle cx="63.96" cy="147.07" r="1.15"/><circle cx="65.50" cy="147.03" r="1.15"/><circle cx="67.36" cy="146.99" r="1.15"/><circle cx="56.37" cy="147.85" r="1.15"/><circle cx="57.86" cy="147.91" r="1.15"/><circle cx="59.56" cy="147.88" r="1.15"/><circle cx="61.05" cy="147.78" r="1.15"/><circle cx="63.11" cy="148.11" r="1.15"/><circle cx="64.61" cy="148.12" r="1.15"/><circle cx="66.19" cy="148.03" r="1.15"/><circle cx="67.77" cy="148.16" r="1.15"/><circle cx="57.36" cy="149.14" r="1.15"/><circle cx="58.99" cy="149.37" r="1.15"/><circle cx="60.30" cy="149.13" r="1.15"/><circle cx="62.00" cy="148.95" r="1.15"/><circle cx="63.96" cy="149.13" r="1.15"/><circle cx="65.30" cy="149.16" r="1.15"/><circle cx="66.89" cy="149.27" r="1.15"/><circle cx="56.68" cy="150.14" r="1.15"/><circle cx="57.98" cy="150.43" r="1.15"/><circle cx="59.76" cy="150.30" r="1.15"/><circle cx="61.09" cy="150.42" r="1.15"/><circle cx="62.92" cy="150.53" r="1.15"/><circle cx="64.58" cy="150.26" r="1.15"/><circle cx="66.10" cy="150.22" r="1.15"/><circle cx="67.96" cy="150.16" r="1.15"/><circle cx="56.85" cy="151.43" r="1.15"/><circle cx="58.62" cy="151.35" r="1.15"/><circle cx="60.27" cy="151.71" r="1.15"/><circle cx="62.07" cy="151.59" r="1.15"/><circle cx="63.74" cy="151.32" r="1.15"/><circle cx="65.40" cy="151.61" r="1.15"/><circle cx="67.21" cy="151.67" r="1.15"/><circle cx="57.59" cy="152.63" r="1.15"/><circle cx="59.28" cy="152.87" r="1.15"/><circle cx="61.19" cy="152.77" r="1.15"/><circle cx="63.14" cy="152.81" r="1.15"/><circle cx="65.06" cy="152.81" r="1.15"/><circle cx="66.57" cy="152.74" r="1.15"/><circle cx="57.74" cy="153.68" r="1.15"/><circle cx="59.44" cy="153.83" r="1.15"/><circle cx="61.08" cy="154.07" r="1.15"/><circle cx="62.73" cy="153.77" r="1.15"/><circle cx="64.90" cy="154.03" r="1.15"/><circle cx="66.38" cy="153.86" r="1.15"/><circle cx="58.16" cy="154.90" r="1.15"/><circle cx="59.60" cy="154.91" r="1.15"/><circle cx="61.12" cy="154.83" r="1.15"/><circle cx="62.75" cy="154.97" r="1.15"/><circle cx="64.35" cy="154.88" r="1.15"/><circle cx="66.04" cy="154.92" r="1.15"/><circle cx="58.39" cy="155.99" r="1.15"/><circle cx="60.32" cy="156.31" r="1.15"/><circle cx="62.11" cy="156.34" r="1.15"/><circle cx="63.98" cy="156.22" r="1.15"/><circle cx="65.84" cy="156.11" r="1.15"/><circle cx="58.04" cy="157.50" r="1.15"/><circle cx="59.76" cy="157.35" r="1.15"/><circle cx="61.55" cy="157.50" r="1.15"/><circle cx="62.85" cy="157.34" r="1.15"/><circle cx="64.29" cy="157.58" r="1.15"/><circle cx="66.29" cy="157.42" r="1.15"/><circle cx="58.13" cy="158.64" r="1.15"/><circle cx="59.97" cy="158.42" r="1.15"/><circle cx="61.92" cy="158.58" r="1.15"/><circle cx="64.27" cy="158.57" r="1.15"/><circle cx="66.17" cy="158.36" r="1.15"/></g>
<path d="M55.4 144.6 H69.2" stroke="#5a9a64" stroke-width="0.6"/>
<g fill="#e8609c"><circle cx="78.24" cy="127.65" r="0.85"/><circle cx="82.06" cy="127.76" r="0.85"/><circle cx="84.17" cy="127.84" r="0.85"/><circle cx="86.47" cy="127.58" r="0.85"/><circle cx="76.67" cy="129.13" r="0.85"/><circle cx="78.62" cy="129.03" r="0.85"/><circle cx="80.53" cy="128.99" r="0.85"/><circle cx="82.07" cy="129.13" r="0.85"/><circle cx="84.31" cy="129.13" r="0.85"/><circle cx="78.74" cy="130.48" r="0.85"/><circle cx="80.23" cy="130.15" r="0.85"/><circle cx="84.25" cy="130.20" r="0.85"/><circle cx="86.02" cy="130.22" r="0.85"/><circle cx="88.01" cy="130.50" r="0.85"/><circle cx="84.30" cy="131.88" r="0.85"/><circle cx="87.86" cy="131.50" r="0.85"/><circle cx="76.65" cy="132.78" r="0.85"/><circle cx="82.45" cy="132.95" r="0.85"/><circle cx="84.04" cy="133.13" r="0.85"/><circle cx="87.90" cy="132.77" r="0.85"/><circle cx="77.69" cy="134.59" r="0.85"/><circle cx="79.67" cy="134.25" r="0.85"/><circle cx="81.39" cy="134.11" r="0.85"/><circle cx="83.21" cy="134.40" r="0.85"/><circle cx="84.95" cy="134.53" r="0.85"/><circle cx="87.33" cy="134.54" r="0.85"/><circle cx="78.00" cy="135.77" r="0.85"/><circle cx="80.17" cy="135.76" r="0.85"/><circle cx="84.42" cy="135.81" r="0.85"/><circle cx="86.51" cy="135.93" r="0.85"/><circle cx="78.34" cy="137.00" r="0.85"/><circle cx="80.20" cy="137.10" r="0.85"/><circle cx="84.22" cy="137.03" r="0.85"/><circle cx="83.27" cy="138.48" r="0.85"/><circle cx="79.23" cy="139.66" r="0.85"/><circle cx="81.17" cy="139.68" r="0.85"/><circle cx="83.24" cy="139.68" r="0.85"/><circle cx="79.51" cy="141.00" r="0.85"/><circle cx="81.48" cy="140.96" r="0.85"/><circle cx="83.24" cy="141.19" r="0.85"/><circle cx="85.12" cy="141.01" r="0.85"/></g>
<g fill="#e8609c"><circle cx="82.3" cy="147" r="0.9"/><circle cx="82.3" cy="161.4" r="0.9"/></g>
<path d="M75.5 135.6 H89.5 M79 129 H85.6 M79 142.2 H85.6 M82.3 129 V142.2" stroke="#e8609c" stroke-width="0.8"/>
<path d="M127.6 123.3 V198.9 M125.1 198.9 H195.5" stroke="#333" stroke-width="0.8" fill="none"/>
<line x1="125.6" y1="198.9" x2="127.6" y2="198.9" stroke="#333" stroke-width="0.8"/>
<text x="124.39999999999999" y="200.8" font-size="5.2" fill="#000" font-weight="bold" font-family='"Liberation Sans", sans-serif' text-anchor="end" >0</text>
<line x1="125.6" y1="177.3" x2="127.6" y2="177.3" stroke="#333" stroke-width="0.8"/>
<text x="124.39999999999999" y="179.20000000000002" font-size="5.2" fill="#000" font-weight="bold" font-family='"Liberation Sans", sans-serif' text-anchor="end" >1</text>
<line x1="125.6" y1="155.7" x2="127.6" y2="155.7" stroke="#333" stroke-width="0.8"/>
<text x="124.39999999999999" y="157.6" font-size="5.2" fill="#000" font-weight="bold" font-family='"Liberation Sans", sans-serif' text-anchor="end" >2</text>
<line x1="125.6" y1="134.1" x2="127.6" y2="134.1" stroke="#333" stroke-width="0.8"/>
<text x="124.39999999999999" y="136.0" font-size="5.2" fill="#000" font-weight="bold" font-family='"Liberation Sans", sans-serif' text-anchor="end" >3</text>
<line x1="140.7" y1="198.9" x2="140.7" y2="200.9" stroke="#333" stroke-width="0.8"/>
<line x1="160.7" y1="198.9" x2="160.7" y2="200.9" stroke="#333" stroke-width="0.8"/>
<line x1="181.2" y1="198.9" x2="181.2" y2="200.9" stroke="#333" stroke-width="0.8"/>
<text x="161.7" y="113.2" font-size="6.6" fill="#000" font-weight="bold" font-family='"Liberation Serif", serif' text-anchor="middle" >Anti-S of NL63</text>
<path d="M142.7 128.1 V126.1 H159.89999999999998 V128.1" stroke="#222" stroke-width="0.9" fill="none"/>
<text x="151.29999999999998" y="125.69999999999999" font-size="5.2" fill="#222" font-weight="bold" font-family='"Liberation Serif", serif' text-anchor="middle" >****</text>
<path d="M161.89999999999998 128.1 V126.1 H181.7 V128.1" stroke="#222" stroke-width="0.9" fill="none"/>
<text x="171.79999999999998" y="125.69999999999999" font-size="5.2" fill="#222" font-weight="bold" font-family='"Liberation Serif", serif' text-anchor="middle" >****</text>
<text transform="translate(142.89999999999998,207.1) rotate(-45)" font-size="5.9" font-weight="bold" font-family='"Liberation Serif", serif' text-anchor="end" fill="#111">NL63 (-)</text>
<text transform="translate(162.89999999999998,207.1) rotate(-45)" font-size="5.9" font-weight="bold" font-family='"Liberation Serif", serif' text-anchor="end" fill="#111">NL63 (+)</text>
<text transform="translate(183.39999999999998,207.1) rotate(-45)" font-size="5.9" font-weight="bold" font-family='"Liberation Serif", serif' text-anchor="end" fill="#111">COVID-19</text>
<text transform="translate(109.2,161.3) rotate(-90)" font-size="6.3" font-weight="bold" font-family='"Liberation Serif", serif' text-anchor="middle" fill="#111">OD<tspan font-size="3.5" dy="1.3">450</tspan></text>
<g fill="#333333"><circle cx="137.29" cy="164.93" r="1.15"/><circle cx="138.92" cy="165.31" r="1.15"/><circle cx="140.73" cy="164.97" r="1.15"/><circle cx="142.12" cy="164.94" r="1.15"/><circle cx="143.71" cy="165.32" r="1.15"/><circle cx="136.97" cy="166.11" r="1.15"/><circle cx="138.78" cy="166.38" r="1.15"/><circle cx="140.79" cy="166.06" r="1.15"/><circle cx="142.57" cy="166.27" r="1.15"/><circle cx="144.36" cy="166.06" r="1.15"/><circle cx="135.86" cy="167.33" r="1.15"/><circle cx="137.46" cy="167.62" r="1.15"/><circle cx="139.02" cy="167.39" r="1.15"/><circle cx="140.57" cy="167.26" r="1.15"/><circle cx="142.34" cy="167.20" r="1.15"/><circle cx="143.84" cy="167.32" r="1.15"/><circle cx="145.35" cy="167.35" r="1.15"/><circle cx="136.12" cy="168.44" r="1.15"/><circle cx="137.83" cy="168.52" r="1.15"/><circle cx="139.62" cy="168.62" r="1.15"/><circle cx="141.29" cy="168.37" r="1.15"/><circle cx="143.39" cy="168.65" r="1.15"/><circle cx="144.95" cy="168.43" r="1.15"/><circle cx="136.25" cy="169.95" r="1.15"/><circle cx="138.05" cy="169.98" r="1.15"/><circle cx="139.60" cy="169.99" r="1.15"/><circle cx="141.45" cy="169.98" r="1.15"/><circle cx="143.43" cy="169.65" r="1.15"/><circle cx="145.02" cy="169.57" r="1.15"/><circle cx="136.47" cy="170.67" r="1.15"/><circle cx="138.01" cy="171.06" r="1.15"/><circle cx="139.69" cy="170.72" r="1.15"/><circle cx="141.37" cy="170.77" r="1.15"/><circle cx="142.80" cy="170.75" r="1.15"/><circle cx="144.47" cy="170.69" r="1.15"/><circle cx="136.02" cy="171.89" r="1.15"/><circle cx="137.52" cy="172.03" r="1.15"/><circle cx="138.98" cy="171.95" r="1.15"/><circle cx="140.37" cy="172.04" r="1.15"/><circle cx="142.40" cy="172.25" r="1.15"/><circle cx="143.59" cy="171.96" r="1.15"/><circle cx="145.28" cy="171.95" r="1.15"/><circle cx="135.43" cy="173.46" r="1.15"/><circle cx="137.55" cy="173.19" r="1.15"/><circle cx="139.03" cy="173.39" r="1.15"/><circle cx="140.60" cy="173.04" r="1.15"/><circle cx="142.44" cy="173.44" r="1.15"/><circle cx="143.82" cy="173.32" r="1.15"/><circle cx="145.62" cy="173.40" r="1.15"/><circle cx="135.48" cy="174.29" r="1.15"/><circle cx="137.35" cy="174.19" r="1.15"/><circle cx="139.09" cy="174.49" r="1.15"/><circle cx="140.80" cy="174.22" r="1.15"/><circle cx="142.42" cy="174.19" r="1.15"/><circle cx="144.14" cy="174.44" r="1.15"/><circle cx="146.03" cy="174.26" r="1.15"/><circle cx="136.20" cy="175.76" r="1.15"/><circle cx="138.26" cy="175.71" r="1.15"/><circle cx="139.79" cy="175.76" r="1.15"/><circle cx="141.52" cy="175.48" r="1.15"/><circle cx="143.23" cy="175.55" r="1.15"/><circle cx="144.52" cy="175.33" r="1.15"/><circle cx="135.46" cy="176.78" r="1.15"/><circle cx="136.98" cy="176.86" r="1.15"/><circle cx="138.58" cy="176.90" r="1.15"/><circle cx="140.39" cy="176.75" r="1.15"/><circle cx="142.52" cy="176.64" r="1.15"/><circle cx="144.14" cy="176.96" r="1.15"/><circle cx="145.73" cy="176.79" r="1.15"/><circle cx="135.47" cy="178.07" r="1.15"/><circle cx="136.98" cy="178.08" r="1.15"/><circle cx="138.80" cy="178.06" r="1.15"/><circle cx="140.75" cy="177.73" r="1.15"/><circle cx="142.14" cy="177.72" r="1.15"/><circle cx="143.92" cy="177.91" r="1.15"/><circle cx="145.81" cy="177.65" r="1.15"/><circle cx="135.77" cy="179.16" r="1.15"/><circle cx="137.17" cy="178.93" r="1.15"/><circle cx="138.92" cy="179.19" r="1.15"/><circle cx="140.66" cy="179.14" r="1.15"/><circle cx="142.12" cy="179.26" r="1.15"/><circle cx="144.02" cy="178.96" r="1.15"/><circle cx="145.57" cy="179.11" r="1.15"/><circle cx="136.29" cy="180.15" r="1.15"/><circle cx="137.75" cy="180.01" r="1.15"/><circle cx="139.86" cy="180.06" r="1.15"/><circle cx="141.43" cy="180.26" r="1.15"/><circle cx="143.33" cy="180.01" r="1.15"/><circle cx="145.27" cy="180.06" r="1.15"/><circle cx="135.52" cy="181.14" r="1.15"/><circle cx="137.50" cy="181.54" r="1.15"/><circle cx="139.09" cy="181.61" r="1.15"/><circle cx="140.64" cy="181.38" r="1.15"/><circle cx="142.48" cy="181.51" r="1.15"/><circle cx="143.73" cy="181.46" r="1.15"/><circle cx="145.71" cy="181.44" r="1.15"/><circle cx="136.41" cy="182.50" r="1.15"/><circle cx="138.16" cy="182.64" r="1.15"/><circle cx="139.58" cy="182.46" r="1.15"/><circle cx="141.73" cy="182.74" r="1.15"/><circle cx="143.19" cy="182.70" r="1.15"/><circle cx="144.96" cy="182.30" r="1.15"/><circle cx="136.89" cy="183.76" r="1.15"/><circle cx="138.92" cy="183.77" r="1.15"/><circle cx="140.38" cy="183.94" r="1.15"/><circle cx="142.71" cy="183.76" r="1.15"/><circle cx="144.20" cy="183.58" r="1.15"/><circle cx="137.61" cy="185.01" r="1.15"/><circle cx="138.88" cy="184.77" r="1.15"/><circle cx="140.43" cy="185.01" r="1.15"/><circle cx="142.22" cy="185.10" r="1.15"/><circle cx="143.80" cy="184.70" r="1.15"/><circle cx="137.33" cy="185.84" r="1.15"/><circle cx="139.26" cy="185.92" r="1.15"/><circle cx="140.70" cy="186.15" r="1.15"/><circle cx="142.41" cy="186.22" r="1.15"/><circle cx="143.80" cy="186.13" r="1.15"/><circle cx="137.27" cy="187.02" r="1.15"/><circle cx="138.93" cy="186.98" r="1.15"/><circle cx="140.79" cy="187.07" r="1.15"/><circle cx="142.36" cy="187.37" r="1.15"/><circle cx="143.87" cy="187.15" r="1.15"/><circle cx="137.67" cy="188.59" r="1.15"/><circle cx="139.53" cy="188.53" r="1.15"/><circle cx="141.36" cy="188.38" r="1.15"/><circle cx="143.40" cy="188.20" r="1.15"/><circle cx="137.64" cy="189.73" r="1.15"/><circle cx="139.52" cy="189.69" r="1.15"/><circle cx="141.66" cy="189.32" r="1.15"/><circle cx="143.87" cy="189.42" r="1.15"/><circle cx="137.46" cy="190.45" r="1.15"/><circle cx="138.88" cy="190.86" r="1.15"/><circle cx="140.50" cy="190.88" r="1.15"/><circle cx="142.12" cy="190.85" r="1.15"/><circle cx="143.99" cy="190.87" r="1.15"/><circle cx="138.18" cy="191.86" r="1.15"/><circle cx="139.70" cy="191.63" r="1.15"/><circle cx="141.42" cy="191.87" r="1.15"/><circle cx="142.95" cy="191.69" r="1.15"/><circle cx="138.90" cy="193.10" r="1.15"/><circle cx="140.84" cy="193.17" r="1.15"/><circle cx="142.26" cy="193.18" r="1.15"/><circle cx="138.45" cy="194.28" r="1.15"/><circle cx="140.59" cy="193.99" r="1.15"/><circle cx="142.70" cy="194.29" r="1.15"/><circle cx="138.10" cy="195.38" r="1.15"/><circle cx="139.74" cy="195.57" r="1.15"/><circle cx="141.59" cy="195.23" r="1.15"/><circle cx="143.18" cy="195.43" r="1.15"/></g>
<g fill="#3050a8"><circle cx="160.75" cy="135.83" r="1.15"/><circle cx="160.36" cy="136.75" r="1.15"/><circle cx="159.90" cy="137.74" r="1.15"/><circle cx="161.37" cy="137.95" r="1.15"/><circle cx="160.46" cy="138.98" r="1.15"/><circle cx="160.43" cy="140.40" r="1.15"/><circle cx="160.41" cy="141.17" r="1.15"/><circle cx="158.14" cy="142.82" r="1.15"/><circle cx="160.49" cy="142.81" r="1.15"/><circle cx="163.01" cy="142.43" r="1.15"/><circle cx="158.64" cy="143.94" r="1.15"/><circle cx="160.53" cy="143.58" r="1.15"/><circle cx="162.58" cy="143.64" r="1.15"/><circle cx="157.98" cy="144.82" r="1.15"/><circle cx="159.86" cy="144.90" r="1.15"/><circle cx="161.49" cy="145.01" r="1.15"/><circle cx="163.55" cy="144.67" r="1.15"/><circle cx="157.61" cy="146.21" r="1.15"/><circle cx="159.72" cy="145.82" r="1.15"/><circle cx="161.36" cy="146.30" r="1.15"/><circle cx="163.47" cy="146.28" r="1.15"/><circle cx="156.55" cy="147.24" r="1.15"/><circle cx="158.02" cy="147.35" r="1.15"/><circle cx="159.99" cy="147.00" r="1.15"/><circle cx="161.19" cy="147.15" r="1.15"/><circle cx="163.19" cy="147.15" r="1.15"/><circle cx="164.60" cy="147.14" r="1.15"/><circle cx="157.37" cy="148.22" r="1.15"/><circle cx="159.84" cy="148.22" r="1.15"/><circle cx="161.85" cy="148.41" r="1.15"/><circle cx="163.48" cy="148.44" r="1.15"/><circle cx="155.98" cy="149.33" r="1.15"/><circle cx="157.62" cy="149.55" r="1.15"/><circle cx="159.50" cy="149.67" r="1.15"/><circle cx="161.58" cy="149.70" r="1.15"/><circle cx="163.32" cy="149.38" r="1.15"/><circle cx="165.08" cy="149.53" r="1.15"/><circle cx="156.27" cy="150.69" r="1.15"/><circle cx="157.98" cy="150.71" r="1.15"/><circle cx="159.64" cy="150.54" r="1.15"/><circle cx="161.76" cy="150.95" r="1.15"/><circle cx="163.34" cy="150.64" r="1.15"/><circle cx="165.05" cy="150.86" r="1.15"/><circle cx="155.39" cy="152.02" r="1.15"/><circle cx="157.11" cy="152.01" r="1.15"/><circle cx="158.92" cy="151.77" r="1.15"/><circle cx="160.73" cy="151.98" r="1.15"/><circle cx="162.61" cy="151.95" r="1.15"/><circle cx="163.92" cy="151.90" r="1.15"/><circle cx="166.04" cy="151.86" r="1.15"/><circle cx="155.70" cy="152.97" r="1.15"/><circle cx="157.35" cy="153.21" r="1.15"/><circle cx="159.09" cy="153.23" r="1.15"/><circle cx="160.84" cy="153.27" r="1.15"/><circle cx="162.30" cy="152.88" r="1.15"/><circle cx="164.18" cy="153.03" r="1.15"/><circle cx="165.76" cy="153.16" r="1.15"/><circle cx="155.59" cy="154.29" r="1.15"/><circle cx="157.30" cy="154.34" r="1.15"/><circle cx="159.03" cy="153.97" r="1.15"/><circle cx="160.57" cy="154.28" r="1.15"/><circle cx="162.38" cy="154.27" r="1.15"/><circle cx="163.95" cy="154.07" r="1.15"/><circle cx="165.47" cy="154.11" r="1.15"/><circle cx="155.48" cy="155.35" r="1.15"/><circle cx="157.39" cy="155.41" r="1.15"/><circle cx="159.17" cy="155.12" r="1.15"/><circle cx="160.49" cy="155.32" r="1.15"/><circle cx="162.40" cy="155.30" r="1.15"/><circle cx="163.92" cy="155.16" r="1.15"/><circle cx="165.41" cy="155.41" r="1.15"/><circle cx="154.14" cy="156.69" r="1.15"/><circle cx="155.72" cy="156.35" r="1.15"/><circle cx="157.42" cy="156.76" r="1.15"/><circle cx="159.05" cy="156.46" r="1.15"/><circle cx="160.35" cy="156.33" r="1.15"/><circle cx="162.26" cy="156.35" r="1.15"/><circle cx="164.01" cy="156.47" r="1.15"/><circle cx="165.28" cy="156.43" r="1.15"/><circle cx="166.96" cy="156.76" r="1.15"/><circle cx="154.73" cy="157.93" r="1.15"/><circle cx="156.45" cy="157.60" r="1.15"/><circle cx="158.13" cy="157.59" r="1.15"/><circle cx="159.59" cy="157.75" r="1.15"/><circle cx="161.32" cy="157.83" r="1.15"/><circle cx="162.82" cy="157.71" r="1.15"/><circle cx="164.92" cy="157.83" r="1.15"/><circle cx="166.23" cy="157.52" r="1.15"/><circle cx="154.19" cy="158.84" r="1.15"/><circle cx="155.80" cy="158.98" r="1.15"/><circle cx="157.50" cy="158.76" r="1.15"/><circle cx="158.90" cy="158.75" r="1.15"/><circle cx="160.58" cy="158.79" r="1.15"/><circle cx="162.26" cy="158.62" r="1.15"/><circle cx="163.81" cy="159.06" r="1.15"/><circle cx="165.47" cy="158.61" r="1.15"/><circle cx="167.03" cy="158.89" r="1.15"/><circle cx="155.08" cy="160.22" r="1.15"/><circle cx="156.61" cy="160.19" r="1.15"/><circle cx="158.14" cy="160.18" r="1.15"/><circle cx="159.98" cy="160.11" r="1.15"/><circle cx="161.28" cy="160.16" r="1.15"/><circle cx="162.78" cy="160.01" r="1.15"/><circle cx="164.53" cy="159.93" r="1.15"/><circle cx="166.15" cy="160.17" r="1.15"/><circle cx="155.72" cy="161.33" r="1.15"/><circle cx="157.00" cy="161.29" r="1.15"/><circle cx="159.17" cy="161.28" r="1.15"/><circle cx="160.77" cy="161.04" r="1.15"/><circle cx="162.51" cy="161.29" r="1.15"/><circle cx="163.86" cy="161.39" r="1.15"/><circle cx="165.69" cy="161.14" r="1.15"/><circle cx="156.25" cy="162.15" r="1.15"/><circle cx="157.91" cy="162.12" r="1.15"/><circle cx="159.90" cy="162.53" r="1.15"/><circle cx="161.39" cy="162.25" r="1.15"/><circle cx="163.07" cy="162.56" r="1.15"/><circle cx="164.50" cy="162.44" r="1.15"/><circle cx="156.74" cy="163.71" r="1.15"/><circle cx="158.73" cy="163.39" r="1.15"/><circle cx="160.48" cy="163.63" r="1.15"/><circle cx="162.35" cy="163.37" r="1.15"/><circle cx="164.58" cy="163.34" r="1.15"/></g>
<g fill="#e84a88"><circle cx="184.28" cy="135.64" r="0.8"/><circle cx="181.67" cy="136.87" r="0.8"/><circle cx="182.53" cy="138.56" r="0.8"/><circle cx="184.60" cy="138.50" r="0.8"/><circle cx="178.86" cy="139.99" r="0.8"/><circle cx="181.03" cy="139.68" r="0.8"/><circle cx="186.52" cy="139.88" r="0.8"/><circle cx="180.74" cy="141.46" r="0.8"/><circle cx="180.36" cy="142.74" r="0.8"/><circle cx="182.54" cy="142.48" r="0.8"/><circle cx="180.31" cy="144.10" r="0.8"/><circle cx="182.35" cy="144.29" r="0.8"/><circle cx="186.71" cy="143.87" r="0.8"/><circle cx="182.44" cy="145.48" r="0.8"/><circle cx="184.80" cy="145.31" r="0.8"/><circle cx="186.73" cy="145.48" r="0.8"/><circle cx="178.09" cy="147.16" r="0.8"/><circle cx="184.99" cy="147.11" r="0.8"/><circle cx="180.06" cy="148.51" r="0.8"/><circle cx="182.49" cy="148.53" r="0.8"/><circle cx="184.50" cy="148.20" r="0.8"/><circle cx="177.65" cy="150.02" r="0.8"/><circle cx="179.56" cy="150.00" r="0.8"/><circle cx="183.45" cy="149.80" r="0.8"/><circle cx="185.33" cy="149.71" r="0.8"/><circle cx="184.70" cy="151.15" r="0.8"/><circle cx="186.79" cy="151.38" r="0.8"/><circle cx="177.95" cy="152.63" r="0.8"/><circle cx="180.12" cy="152.80" r="0.8"/><circle cx="182.61" cy="152.59" r="0.8"/><circle cx="179.42" cy="154.14" r="0.8"/><circle cx="181.54" cy="154.24" r="0.8"/><circle cx="179.32" cy="155.57" r="0.8"/><circle cx="183.57" cy="155.31" r="0.8"/><circle cx="185.58" cy="155.49" r="0.8"/><circle cx="185.41" cy="156.73" r="0.8"/></g>
<g fill="#e84a88"><circle cx="180.5" cy="164.2" r="0.8"/><circle cx="182.5" cy="164.2" r="0.8"/><circle cx="181.2" cy="177" r="0.8"/></g>
<path d="M175 149.6 H188.2 M178.5 140 H184.5 M178.5 158 H184.5 M181.5 140 V158" stroke="#e84a88" stroke-width="0.8"/>
<path d="M226.3 123.3 V198.9 M223.8 198.9 H294" stroke="#333" stroke-width="0.8" fill="none"/>
<line x1="224.3" y1="198.9" x2="226.3" y2="198.9" stroke="#333" stroke-width="0.8"/>
<text x="223.10000000000002" y="200.8" font-size="5.2" fill="#000" font-weight="bold" font-family='"Liberation Sans", sans-serif' text-anchor="end" >0</text>
<line x1="224.3" y1="173.70000000000002" x2="226.3" y2="173.70000000000002" stroke="#333" stroke-width="0.8"/>
<text x="223.10000000000002" y="175.60000000000002" font-size="5.2" fill="#000" font-weight="bold" font-family='"Liberation Sans", sans-serif' text-anchor="end" >1</text>
<line x1="224.3" y1="148.5" x2="226.3" y2="148.5" stroke="#333" stroke-width="0.8"/>
<text x="223.10000000000002" y="150.4" font-size="5.2" fill="#000" font-weight="bold" font-family='"Liberation Sans", sans-serif' text-anchor="end" >2</text>
<line x1="224.3" y1="123.30000000000001" x2="226.3" y2="123.30000000000001" stroke="#333" stroke-width="0.8"/>
<text x="223.10000000000002" y="125.20000000000002" font-size="5.2" fill="#000" font-weight="bold" font-family='"Liberation Sans", sans-serif' text-anchor="end" >3</text>
<line x1="239.6" y1="198.9" x2="239.6" y2="200.9" stroke="#333" stroke-width="0.8"/>
<line x1="259.6" y1="198.9" x2="259.6" y2="200.9" stroke="#333" stroke-width="0.8"/>
<line x1="280.1" y1="198.9" x2="280.1" y2="200.9" stroke="#333" stroke-width="0.8"/>
<text x="260" y="113.2" font-size="6.6" fill="#000" font-weight="bold" font-family='"Liberation Serif", serif' text-anchor="middle" >Anti-S of HKU1</text>
<path d="M241.6 126.3 V124.3 H258.8 V126.3" stroke="#222" stroke-width="0.9" fill="none"/>
<text x="250.2" y="123.89999999999999" font-size="5.2" fill="#222" font-weight="bold" font-family='"Liberation Serif", serif' text-anchor="middle" >****</text>
<path d="M260.8 126.3 V124.3 H280.6 V126.3" stroke="#222" stroke-width="0.9" fill="none"/>
<text x="270.70000000000005" y="123.89999999999999" font-size="5.2" fill="#222" font-weight="bold" font-family='"Liberation Serif", serif' text-anchor="middle" >****</text>
<text transform="translate(241.79999999999998,207.1) rotate(-45)" font-size="5.9" font-weight="bold" font-family='"Liberation Serif", serif' text-anchor="end" fill="#111">HKU1 (-)</text>
<text transform="translate(261.8,207.1) rotate(-45)" font-size="5.9" font-weight="bold" font-family='"Liberation Serif", serif' text-anchor="end" fill="#111">HKU1 (+)</text>
<text transform="translate(282.3,207.1) rotate(-45)" font-size="5.9" font-weight="bold" font-family='"Liberation Serif", serif' text-anchor="end" fill="#111">COVID-19</text>
<text transform="translate(207.7,161.3) rotate(-90)" font-size="6.3" font-weight="bold" font-family='"Liberation Serif", serif' text-anchor="middle" fill="#111">OD<tspan font-size="3.5" dy="1.3">450</tspan></text>
<g fill="#333333"><circle cx="237.53" cy="159.19" r="1.15"/><circle cx="239.63" cy="159.18" r="1.15"/><circle cx="241.71" cy="159.37" r="1.15"/><circle cx="237.82" cy="160.73" r="1.15"/><circle cx="239.56" cy="160.63" r="1.15"/><circle cx="241.58" cy="160.52" r="1.15"/><circle cx="236.01" cy="161.62" r="1.15"/><circle cx="237.58" cy="161.63" r="1.15"/><circle cx="239.54" cy="161.77" r="1.15"/><circle cx="241.57" cy="161.75" r="1.15"/><circle cx="243.35" cy="161.58" r="1.15"/><circle cx="236.41" cy="162.94" r="1.15"/><circle cx="238.00" cy="163.04" r="1.15"/><circle cx="239.57" cy="162.93" r="1.15"/><circle cx="241.49" cy="163.01" r="1.15"/><circle cx="243.14" cy="162.70" r="1.15"/><circle cx="235.87" cy="164.05" r="1.15"/><circle cx="237.96" cy="164.19" r="1.15"/><circle cx="239.89" cy="163.96" r="1.15"/><circle cx="241.58" cy="164.09" r="1.15"/><circle cx="243.53" cy="164.28" r="1.15"/><circle cx="235.94" cy="165.32" r="1.15"/><circle cx="238.18" cy="165.38" r="1.15"/><circle cx="239.64" cy="165.30" r="1.15"/><circle cx="241.45" cy="165.05" r="1.15"/><circle cx="243.02" cy="165.35" r="1.15"/><circle cx="235.82" cy="166.57" r="1.15"/><circle cx="237.76" cy="166.40" r="1.15"/><circle cx="239.86" cy="166.56" r="1.15"/><circle cx="241.57" cy="166.31" r="1.15"/><circle cx="243.75" cy="166.21" r="1.15"/><circle cx="235.79" cy="167.53" r="1.15"/><circle cx="237.70" cy="167.29" r="1.15"/><circle cx="239.63" cy="167.58" r="1.15"/><circle cx="241.68" cy="167.55" r="1.15"/><circle cx="243.56" cy="167.32" r="1.15"/><circle cx="234.64" cy="168.85" r="1.15"/><circle cx="236.15" cy="168.51" r="1.15"/><circle cx="237.73" cy="168.49" r="1.15"/><circle cx="239.53" cy="168.63" r="1.15"/><circle cx="241.20" cy="168.53" r="1.15"/><circle cx="243.13" cy="168.47" r="1.15"/><circle cx="245.00" cy="168.53" r="1.15"/><circle cx="235.89" cy="169.68" r="1.15"/><circle cx="238.08" cy="169.85" r="1.15"/><circle cx="239.49" cy="169.67" r="1.15"/><circle cx="241.45" cy="170.03" r="1.15"/><circle cx="243.20" cy="170.09" r="1.15"/><circle cx="235.30" cy="170.79" r="1.15"/><circle cx="237.29" cy="171.21" r="1.15"/><circle cx="238.70" cy="170.96" r="1.15"/><circle cx="240.72" cy="171.05" r="1.15"/><circle cx="242.27" cy="170.89" r="1.15"/><circle cx="244.36" cy="171.21" r="1.15"/><circle cx="235.61" cy="172.06" r="1.15"/><circle cx="237.10" cy="171.96" r="1.15"/><circle cx="238.75" cy="172.07" r="1.15"/><circle cx="240.77" cy="172.17" r="1.15"/><circle cx="242.47" cy="172.42" r="1.15"/><circle cx="243.77" cy="172.06" r="1.15"/><circle cx="235.34" cy="173.56" r="1.15"/><circle cx="237.04" cy="173.43" r="1.15"/><circle cx="238.61" cy="173.44" r="1.15"/><circle cx="240.73" cy="173.48" r="1.15"/><circle cx="242.19" cy="173.50" r="1.15"/><circle cx="244.27" cy="173.59" r="1.15"/><circle cx="235.17" cy="174.63" r="1.15"/><circle cx="236.34" cy="174.34" r="1.15"/><circle cx="238.27" cy="174.34" r="1.15"/><circle cx="239.94" cy="174.60" r="1.15"/><circle cx="241.31" cy="174.33" r="1.15"/><circle cx="243.10" cy="174.59" r="1.15"/><circle cx="244.67" cy="174.48" r="1.15"/><circle cx="233.44" cy="175.56" r="1.15"/><circle cx="235.20" cy="175.72" r="1.15"/><circle cx="237.04" cy="175.50" r="1.15"/><circle cx="238.75" cy="175.66" r="1.15"/><circle cx="240.78" cy="175.64" r="1.15"/><circle cx="242.32" cy="175.70" r="1.15"/><circle cx="243.83" cy="175.65" r="1.15"/><circle cx="245.56" cy="175.83" r="1.15"/><circle cx="235.87" cy="176.87" r="1.15"/><circle cx="237.35" cy="176.87" r="1.15"/><circle cx="238.72" cy="176.87" r="1.15"/><circle cx="240.38" cy="176.98" r="1.15"/><circle cx="242.09" cy="176.97" r="1.15"/><circle cx="243.61" cy="176.90" r="1.15"/><circle cx="235.73" cy="177.98" r="1.15"/><circle cx="237.25" cy="178.23" r="1.15"/><circle cx="239.07" cy="178.23" r="1.15"/><circle cx="240.54" cy="178.23" r="1.15"/><circle cx="241.96" cy="177.82" r="1.15"/><circle cx="243.55" cy="177.88" r="1.15"/><circle cx="236.83" cy="179.37" r="1.15"/><circle cx="238.80" cy="179.25" r="1.15"/><circle cx="240.90" cy="179.40" r="1.15"/><circle cx="242.94" cy="179.12" r="1.15"/><circle cx="235.92" cy="180.16" r="1.15"/><circle cx="237.34" cy="180.25" r="1.15"/><circle cx="238.82" cy="180.44" r="1.15"/><circle cx="240.52" cy="180.30" r="1.15"/><circle cx="241.98" cy="180.39" r="1.15"/><circle cx="243.42" cy="180.57" r="1.15"/><circle cx="235.75" cy="181.38" r="1.15"/><circle cx="237.96" cy="181.38" r="1.15"/><circle cx="239.66" cy="181.70" r="1.15"/><circle cx="241.46" cy="181.32" r="1.15"/><circle cx="243.49" cy="181.59" r="1.15"/><circle cx="236.52" cy="182.62" r="1.15"/><circle cx="238.28" cy="182.72" r="1.15"/><circle cx="239.49" cy="182.83" r="1.15"/><circle cx="241.52" cy="182.63" r="1.15"/><circle cx="243.00" cy="182.87" r="1.15"/><circle cx="236.67" cy="183.69" r="1.15"/><circle cx="238.52" cy="183.59" r="1.15"/><circle cx="240.62" cy="183.72" r="1.15"/><circle cx="242.64" cy="183.82" r="1.15"/><circle cx="236.16" cy="184.86" r="1.15"/><circle cx="238.17" cy="185.01" r="1.15"/><circle cx="239.69" cy="185.20" r="1.15"/><circle cx="241.51" cy="184.95" r="1.15"/><circle cx="243.16" cy="184.93" r="1.15"/><circle cx="236.78" cy="186.06" r="1.15"/><circle cx="238.22" cy="186.21" r="1.15"/><circle cx="239.62" cy="185.92" r="1.15"/><circle cx="241.06" cy="186.26" r="1.15"/><circle cx="242.69" cy="185.93" r="1.15"/><circle cx="235.76" cy="187.20" r="1.15"/><circle cx="237.18" cy="187.28" r="1.15"/><circle cx="238.87" cy="187.19" r="1.15"/><circle cx="240.74" cy="187.33" r="1.15"/><circle cx="242.35" cy="187.21" r="1.15"/><circle cx="243.47" cy="187.25" r="1.15"/><circle cx="236.66" cy="188.47" r="1.15"/><circle cx="238.62" cy="188.26" r="1.15"/><circle cx="240.43" cy="188.23" r="1.15"/><circle cx="242.45" cy="188.51" r="1.15"/><circle cx="236.44" cy="189.74" r="1.15"/><circle cx="237.98" cy="189.54" r="1.15"/><circle cx="239.52" cy="189.74" r="1.15"/><circle cx="241.14" cy="189.80" r="1.15"/><circle cx="243.10" cy="189.75" r="1.15"/><circle cx="236.78" cy="190.79" r="1.15"/><circle cx="238.88" cy="190.96" r="1.15"/><circle cx="240.87" cy="190.88" r="1.15"/><circle cx="242.49" cy="190.56" r="1.15"/><circle cx="237.27" cy="192.12" r="1.15"/><circle cx="239.76" cy="192.02" r="1.15"/><circle cx="241.93" cy="191.71" r="1.15"/><circle cx="237.38" cy="193.14" r="1.15"/><circle cx="239.48" cy="193.24" r="1.15"/><circle cx="241.81" cy="193.00" r="1.15"/><circle cx="237.32" cy="194.52" r="1.15"/><circle cx="238.81" cy="194.27" r="1.15"/><circle cx="240.67" cy="194.34" r="1.15"/><circle cx="241.99" cy="194.10" r="1.15"/></g>
<g fill="#8a4bb3"><circle cx="258.96" cy="129.51" r="1.15"/><circle cx="260.73" cy="129.65" r="1.15"/><circle cx="258.79" cy="130.54" r="1.15"/><circle cx="261.04" cy="130.73" r="1.15"/><circle cx="258.17" cy="131.61" r="1.15"/><circle cx="260.20" cy="131.67" r="1.15"/><circle cx="261.47" cy="131.98" r="1.15"/><circle cx="258.37" cy="132.97" r="1.15"/><circle cx="260.10" cy="132.89" r="1.15"/><circle cx="261.77" cy="132.93" r="1.15"/><circle cx="258.30" cy="134.05" r="1.15"/><circle cx="260.22" cy="134.09" r="1.15"/><circle cx="262.11" cy="133.95" r="1.15"/><circle cx="258.15" cy="135.35" r="1.15"/><circle cx="260.10" cy="135.32" r="1.15"/><circle cx="261.84" cy="135.22" r="1.15"/><circle cx="258.43" cy="136.38" r="1.15"/><circle cx="260.20" cy="136.38" r="1.15"/><circle cx="261.45" cy="136.25" r="1.15"/><circle cx="258.18" cy="137.50" r="1.15"/><circle cx="260.17" cy="137.74" r="1.15"/><circle cx="261.65" cy="137.38" r="1.15"/><circle cx="257.10" cy="138.84" r="1.15"/><circle cx="258.84" cy="138.84" r="1.15"/><circle cx="260.75" cy="138.67" r="1.15"/><circle cx="262.70" cy="138.68" r="1.15"/><circle cx="257.54" cy="139.67" r="1.15"/><circle cx="259.02" cy="139.88" r="1.15"/><circle cx="260.94" cy="139.87" r="1.15"/><circle cx="262.60" cy="139.65" r="1.15"/><circle cx="257.82" cy="141.07" r="1.15"/><circle cx="259.93" cy="141.26" r="1.15"/><circle cx="262.29" cy="140.89" r="1.15"/><circle cx="257.62" cy="142.32" r="1.15"/><circle cx="259.17" cy="142.03" r="1.15"/><circle cx="260.84" cy="141.98" r="1.15"/><circle cx="262.61" cy="142.18" r="1.15"/><circle cx="257.16" cy="143.33" r="1.15"/><circle cx="259.01" cy="143.47" r="1.15"/><circle cx="260.95" cy="143.30" r="1.15"/><circle cx="262.74" cy="143.20" r="1.15"/><circle cx="257.04" cy="144.62" r="1.15"/><circle cx="258.74" cy="144.45" r="1.15"/><circle cx="260.82" cy="144.75" r="1.15"/><circle cx="263.08" cy="144.62" r="1.15"/><circle cx="256.96" cy="145.80" r="1.15"/><circle cx="258.73" cy="145.74" r="1.15"/><circle cx="261.14" cy="145.89" r="1.15"/><circle cx="262.92" cy="145.58" r="1.15"/><circle cx="256.96" cy="147.06" r="1.15"/><circle cx="259.02" cy="146.91" r="1.15"/><circle cx="261.13" cy="146.74" r="1.15"/><circle cx="262.82" cy="146.78" r="1.15"/><circle cx="255.85" cy="147.90" r="1.15"/><circle cx="257.74" cy="148.10" r="1.15"/><circle cx="259.30" cy="148.17" r="1.15"/><circle cx="260.74" cy="147.97" r="1.15"/><circle cx="262.45" cy="148.17" r="1.15"/><circle cx="263.84" cy="148.12" r="1.15"/><circle cx="255.69" cy="149.33" r="1.15"/><circle cx="257.42" cy="149.32" r="1.15"/><circle cx="259.06" cy="149.36" r="1.15"/><circle cx="260.75" cy="149.40" r="1.15"/><circle cx="262.60" cy="149.04" r="1.15"/><circle cx="264.17" cy="149.33" r="1.15"/><circle cx="255.02" cy="150.27" r="1.15"/><circle cx="256.72" cy="150.58" r="1.15"/><circle cx="258.43" cy="150.15" r="1.15"/><circle cx="260.09" cy="150.12" r="1.15"/><circle cx="261.89" cy="150.53" r="1.15"/><circle cx="263.22" cy="150.38" r="1.15"/><circle cx="265.21" cy="150.24" r="1.15"/><circle cx="255.34" cy="151.57" r="1.15"/><circle cx="256.94" cy="151.65" r="1.15"/><circle cx="258.44" cy="151.40" r="1.15"/><circle cx="259.93" cy="151.41" r="1.15"/><circle cx="261.42" cy="151.60" r="1.15"/><circle cx="263.06" cy="151.37" r="1.15"/><circle cx="264.80" cy="151.63" r="1.15"/><circle cx="255.48" cy="152.49" r="1.15"/><circle cx="257.15" cy="152.43" r="1.15"/><circle cx="259.23" cy="152.82" r="1.15"/><circle cx="260.80" cy="152.85" r="1.15"/><circle cx="262.64" cy="152.69" r="1.15"/><circle cx="264.67" cy="152.87" r="1.15"/><circle cx="254.84" cy="153.65" r="1.15"/><circle cx="256.37" cy="154.01" r="1.15"/><circle cx="258.35" cy="153.77" r="1.15"/><circle cx="260.04" cy="154.02" r="1.15"/><circle cx="261.80" cy="154.06" r="1.15"/><circle cx="263.34" cy="153.99" r="1.15"/><circle cx="265.02" cy="153.91" r="1.15"/><circle cx="255.11" cy="154.98" r="1.15"/><circle cx="256.65" cy="155.20" r="1.15"/><circle cx="258.17" cy="154.99" r="1.15"/><circle cx="260.16" cy="155.05" r="1.15"/><circle cx="261.63" cy="154.75" r="1.15"/><circle cx="263.59" cy="154.90" r="1.15"/><circle cx="265.12" cy="154.80" r="1.15"/><circle cx="254.69" cy="156.18" r="1.15"/><circle cx="256.80" cy="156.11" r="1.15"/><circle cx="258.52" cy="155.95" r="1.15"/><circle cx="259.77" cy="156.19" r="1.15"/><circle cx="261.96" cy="156.07" r="1.15"/><circle cx="263.51" cy="156.13" r="1.15"/><circle cx="265.02" cy="156.08" r="1.15"/><circle cx="254.41" cy="157.24" r="1.15"/><circle cx="255.66" cy="157.13" r="1.15"/><circle cx="257.73" cy="157.21" r="1.15"/><circle cx="259.05" cy="157.24" r="1.15"/><circle cx="260.85" cy="157.21" r="1.15"/><circle cx="262.61" cy="157.45" r="1.15"/><circle cx="264.15" cy="157.19" r="1.15"/><circle cx="265.64" cy="157.49" r="1.15"/></g>
<path d="M253 147.2 H267" stroke="#8a4bb3" stroke-width="0.7"/>
<g fill="#e0306a"><circle cx="273.88" cy="132.28" r="1.0"/><circle cx="275.40" cy="132.30" r="1.0"/><circle cx="276.77" cy="132.16" r="1.0"/><circle cx="278.03" cy="132.20" r="1.0"/><circle cx="279.54" cy="131.93" r="1.0"/><circle cx="280.58" cy="132.10" r="1.0"/><circle cx="282.16" cy="132.24" r="1.0"/><circle cx="283.58" cy="131.90" r="1.0"/><circle cx="284.89" cy="132.21" r="1.0"/><circle cx="285.94" cy="131.98" r="1.0"/><circle cx="274.47" cy="132.92" r="1.0"/><circle cx="275.95" cy="132.85" r="1.0"/><circle cx="277.20" cy="132.84" r="1.0"/><circle cx="278.86" cy="132.88" r="1.0"/><circle cx="279.91" cy="133.11" r="1.0"/><circle cx="281.40" cy="132.83" r="1.0"/><circle cx="283.01" cy="132.83" r="1.0"/><circle cx="284.43" cy="133.29" r="1.0"/><circle cx="285.83" cy="133.14" r="1.0"/><circle cx="274.07" cy="134.10" r="1.0"/><circle cx="275.32" cy="134.08" r="1.0"/><circle cx="276.67" cy="133.93" r="1.0"/><circle cx="278.39" cy="133.86" r="1.0"/><circle cx="279.67" cy="133.92" r="1.0"/><circle cx="280.52" cy="133.98" r="1.0"/><circle cx="282.10" cy="134.19" r="1.0"/><circle cx="283.28" cy="134.23" r="1.0"/><circle cx="284.64" cy="134.00" r="1.0"/><circle cx="286.00" cy="133.81" r="1.0"/><circle cx="277.38" cy="134.88" r="1.0"/><circle cx="278.67" cy="134.82" r="1.0"/><circle cx="279.90" cy="135.17" r="1.0"/><circle cx="281.59" cy="135.18" r="1.0"/><circle cx="282.89" cy="134.90" r="1.0"/><circle cx="277.98" cy="136.23" r="1.0"/><circle cx="279.37" cy="136.18" r="1.0"/><circle cx="280.85" cy="135.84" r="1.0"/><circle cx="281.97" cy="135.78" r="1.0"/></g>
<g fill="#e0306a"><circle cx="280" cy="141.8" r="0.8"/><circle cx="280.3" cy="144.2" r="0.8"/></g>
<path d="M329 123.0 V199.0 M326.5 199.0 H397" stroke="#333" stroke-width="0.8" fill="none"/>
<line x1="327" y1="199.0" x2="329" y2="199.0" stroke="#333" stroke-width="0.8"/>
<text x="325.8" y="200.9" font-size="5.2" fill="#000" font-weight="bold" font-family='"Liberation Sans", sans-serif' text-anchor="end" >0</text>
<line x1="327" y1="180.0" x2="329" y2="180.0" stroke="#333" stroke-width="0.8"/>
<text x="325.8" y="181.9" font-size="5.2" fill="#000" font-weight="bold" font-family='"Liberation Sans", sans-serif' text-anchor="end" >1</text>
<line x1="327" y1="161.0" x2="329" y2="161.0" stroke="#333" stroke-width="0.8"/>
<text x="325.8" y="162.9" font-size="5.2" fill="#000" font-weight="bold" font-family='"Liberation Sans", sans-serif' text-anchor="end" >2</text>
<line x1="327" y1="142.0" x2="329" y2="142.0" stroke="#333" stroke-width="0.8"/>
<text x="325.8" y="143.9" font-size="5.2" fill="#000" font-weight="bold" font-family='"Liberation Sans", sans-serif' text-anchor="end" >3</text>
<line x1="327" y1="123.0" x2="329" y2="123.0" stroke="#333" stroke-width="0.8"/>
<text x="325.8" y="124.9" font-size="5.2" fill="#000" font-weight="bold" font-family='"Liberation Sans", sans-serif' text-anchor="end" >4</text>
<line x1="342.4" y1="199.0" x2="342.4" y2="201.0" stroke="#333" stroke-width="0.8"/>
<line x1="363.3" y1="199.0" x2="363.3" y2="201.0" stroke="#333" stroke-width="0.8"/>
<line x1="383.8" y1="199.0" x2="383.8" y2="201.0" stroke="#333" stroke-width="0.8"/>
<text x="363.1" y="113.2" font-size="6.6" fill="#000" font-weight="bold" font-family='"Liberation Serif", serif' text-anchor="middle" >Anti-S of OC43</text>
<path d="M344.4 130.9 V128.9 H362.5 V130.9" stroke="#222" stroke-width="0.9" fill="none"/>
<text x="353.45" y="128.5" font-size="5.2" fill="#222" font-weight="bold" font-family='"Liberation Serif", serif' text-anchor="middle" >****</text>
<path d="M364.5 130.9 V128.9 H384.3 V130.9" stroke="#222" stroke-width="0.9" fill="none"/>
<text x="374.4" y="128.5" font-size="5.2" fill="#222" font-weight="bold" font-family='"Liberation Serif", serif' text-anchor="middle" >****</text>
<text transform="translate(344.59999999999997,207.2) rotate(-45)" font-size="5.9" font-weight="bold" font-family='"Liberation Serif", serif' text-anchor="end" fill="#111">OC43 (-)</text>
<text transform="translate(365.5,207.2) rotate(-45)" font-size="5.9" font-weight="bold" font-family='"Liberation Serif", serif' text-anchor="end" fill="#111">OC43 (+)</text>
<text transform="translate(386.0,207.2) rotate(-45)" font-size="5.9" font-weight="bold" font-family='"Liberation Serif", serif' text-anchor="end" fill="#111">COVID-19</text>
<text transform="translate(311.2,161.3) rotate(-90)" font-size="6.3" font-weight="bold" font-family='"Liberation Serif", serif' text-anchor="middle" fill="#111">OD<tspan font-size="3.5" dy="1.3">450</tspan></text>
<g fill="#333333"><circle cx="336.83" cy="155.56" r="1.15"/><circle cx="338.59" cy="155.78" r="1.15"/><circle cx="340.07" cy="155.62" r="1.15"/><circle cx="341.91" cy="155.95" r="1.15"/><circle cx="343.50" cy="155.76" r="1.15"/><circle cx="344.84" cy="155.79" r="1.15"/><circle cx="346.67" cy="155.79" r="1.15"/><circle cx="348.34" cy="155.95" r="1.15"/><circle cx="336.54" cy="156.62" r="1.15"/><circle cx="338.63" cy="156.77" r="1.15"/><circle cx="340.24" cy="156.77" r="1.15"/><circle cx="341.65" cy="156.65" r="1.15"/><circle cx="343.49" cy="156.70" r="1.15"/><circle cx="344.91" cy="156.64" r="1.15"/><circle cx="346.75" cy="156.95" r="1.15"/><circle cx="348.41" cy="156.69" r="1.15"/><circle cx="336.87" cy="157.84" r="1.15"/><circle cx="338.24" cy="157.86" r="1.15"/><circle cx="340.29" cy="158.00" r="1.15"/><circle cx="341.56" cy="157.92" r="1.15"/><circle cx="343.15" cy="157.84" r="1.15"/><circle cx="344.77" cy="158.10" r="1.15"/><circle cx="346.70" cy="158.02" r="1.15"/><circle cx="348.15" cy="157.78" r="1.15"/><circle cx="340.39" cy="158.98" r="1.15"/><circle cx="342.54" cy="159.14" r="1.15"/><circle cx="344.61" cy="159.06" r="1.15"/><circle cx="340.16" cy="160.41" r="1.15"/><circle cx="341.71" cy="160.34" r="1.15"/><circle cx="343.24" cy="160.40" r="1.15"/><circle cx="344.84" cy="160.19" r="1.15"/><circle cx="340.67" cy="161.29" r="1.15"/><circle cx="342.52" cy="161.29" r="1.15"/><circle cx="344.09" cy="161.49" r="1.15"/><circle cx="339.38" cy="162.65" r="1.15"/><circle cx="340.92" cy="162.79" r="1.15"/><circle cx="342.60" cy="162.64" r="1.15"/><circle cx="344.26" cy="162.51" r="1.15"/><circle cx="345.66" cy="162.77" r="1.15"/><circle cx="340.56" cy="163.83" r="1.15"/><circle cx="342.73" cy="163.81" r="1.15"/><circle cx="344.72" cy="164.04" r="1.15"/><circle cx="340.81" cy="165.24" r="1.15"/><circle cx="342.39" cy="165.09" r="1.15"/><circle cx="344.37" cy="165.21" r="1.15"/><circle cx="340.62" cy="166.01" r="1.15"/><circle cx="342.30" cy="166.42" r="1.15"/><circle cx="344.15" cy="166.29" r="1.15"/><circle cx="339.62" cy="167.41" r="1.15"/><circle cx="341.43" cy="167.26" r="1.15"/><circle cx="343.51" cy="167.18" r="1.15"/><circle cx="345.53" cy="167.52" r="1.15"/><circle cx="340.17" cy="168.29" r="1.15"/><circle cx="342.38" cy="168.47" r="1.15"/><circle cx="344.85" cy="168.38" r="1.15"/><circle cx="339.58" cy="169.54" r="1.15"/><circle cx="341.44" cy="169.77" r="1.15"/><circle cx="343.45" cy="169.64" r="1.15"/><circle cx="345.52" cy="169.76" r="1.15"/><circle cx="340.16" cy="171.05" r="1.15"/><circle cx="341.78" cy="170.60" r="1.15"/><circle cx="343.50" cy="170.58" r="1.15"/><circle cx="344.90" cy="170.94" r="1.15"/><circle cx="339.60" cy="171.81" r="1.15"/><circle cx="341.73" cy="172.20" r="1.15"/><circle cx="343.54" cy="172.21" r="1.15"/><circle cx="345.28" cy="171.95" r="1.15"/><circle cx="339.66" cy="172.99" r="1.15"/><circle cx="341.67" cy="173.15" r="1.15"/><circle cx="343.50" cy="173.37" r="1.15"/><circle cx="344.87" cy="173.24" r="1.15"/><circle cx="340.84" cy="174.25" r="1.15"/><circle cx="342.34" cy="174.13" r="1.15"/><circle cx="344.52" cy="174.55" r="1.15"/><circle cx="341.11" cy="175.39" r="1.15"/><circle cx="343.94" cy="175.39" r="1.15"/><circle cx="340.72" cy="176.68" r="1.15"/><circle cx="342.74" cy="176.47" r="1.15"/><circle cx="344.55" cy="176.55" r="1.15"/><circle cx="340.43" cy="177.76" r="1.15"/><circle cx="342.72" cy="177.64" r="1.15"/><circle cx="344.46" cy="178.03" r="1.15"/><circle cx="339.71" cy="178.73" r="1.15"/><circle cx="341.50" cy="179.18" r="1.15"/><circle cx="343.25" cy="179.02" r="1.15"/><circle cx="345.07" cy="179.18" r="1.15"/><circle cx="341.24" cy="180.04" r="1.15"/><circle cx="343.55" cy="180.07" r="1.15"/><circle cx="340.11" cy="181.47" r="1.15"/><circle cx="341.85" cy="181.32" r="1.15"/><circle cx="343.35" cy="181.47" r="1.15"/><circle cx="344.82" cy="181.51" r="1.15"/><circle cx="341.48" cy="182.35" r="1.15"/><circle cx="343.71" cy="182.64" r="1.15"/><circle cx="340.79" cy="183.66" r="1.15"/><circle cx="342.26" cy="183.43" r="1.15"/><circle cx="344.36" cy="183.40" r="1.15"/><circle cx="340.97" cy="184.72" r="1.15"/><circle cx="342.43" cy="185.00" r="1.15"/><circle cx="344.25" cy="184.78" r="1.15"/><circle cx="341.06" cy="186.10" r="1.15"/><circle cx="343.91" cy="186.04" r="1.15"/><circle cx="341.68" cy="186.93" r="1.15"/><circle cx="343.46" cy="187.25" r="1.15"/><circle cx="341.31" cy="188.30" r="1.15"/><circle cx="343.77" cy="188.02" r="1.15"/><circle cx="342.28" cy="189.55" r="1.15"/><circle cx="340.57" cy="190.34" r="1.15"/><circle cx="342.58" cy="190.64" r="1.15"/><circle cx="344.40" cy="190.36" r="1.15"/><circle cx="342.42" cy="191.51" r="1.15"/><circle cx="341.66" cy="192.84" r="1.15"/><circle cx="343.32" cy="192.74" r="1.15"/><circle cx="342.29" cy="194.08" r="1.15"/></g>
<path d="M336 169.6 H349" stroke="#2e2e2e" stroke-width="0.9"/>
<g fill="#17819c"><circle cx="363.11" cy="139.29" r="1.15"/><circle cx="362.74" cy="140.47" r="1.15"/><circle cx="361.36" cy="141.53" r="1.15"/><circle cx="364.39" cy="141.73" r="1.15"/><circle cx="361.04" cy="142.87" r="1.15"/><circle cx="362.73" cy="142.55" r="1.15"/><circle cx="364.77" cy="142.64" r="1.15"/><circle cx="359.41" cy="143.93" r="1.15"/><circle cx="361.17" cy="144.03" r="1.15"/><circle cx="362.98" cy="143.93" r="1.15"/><circle cx="364.88" cy="144.20" r="1.15"/><circle cx="366.48" cy="143.86" r="1.15"/><circle cx="358.28" cy="145.25" r="1.15"/><circle cx="360.43" cy="145.06" r="1.15"/><circle cx="362.19" cy="144.87" r="1.15"/><circle cx="363.99" cy="145.10" r="1.15"/><circle cx="365.49" cy="144.90" r="1.15"/><circle cx="367.45" cy="145.00" r="1.15"/><circle cx="358.26" cy="146.41" r="1.15"/><circle cx="359.53" cy="146.08" r="1.15"/><circle cx="361.43" cy="146.12" r="1.15"/><circle cx="362.87" cy="146.13" r="1.15"/><circle cx="364.34" cy="146.35" r="1.15"/><circle cx="366.11" cy="146.14" r="1.15"/><circle cx="368.00" cy="146.43" r="1.15"/><circle cx="357.54" cy="147.39" r="1.15"/><circle cx="359.50" cy="147.24" r="1.15"/><circle cx="361.02" cy="147.32" r="1.15"/><circle cx="362.81" cy="147.34" r="1.15"/><circle cx="364.43" cy="147.48" r="1.15"/><circle cx="366.43" cy="147.38" r="1.15"/><circle cx="368.34" cy="147.43" r="1.15"/><circle cx="357.27" cy="148.43" r="1.15"/><circle cx="359.15" cy="148.48" r="1.15"/><circle cx="360.67" cy="148.83" r="1.15"/><circle cx="362.34" cy="148.80" r="1.15"/><circle cx="363.64" cy="148.41" r="1.15"/><circle cx="365.48" cy="148.47" r="1.15"/><circle cx="366.69" cy="148.77" r="1.15"/><circle cx="368.27" cy="148.44" r="1.15"/><circle cx="357.79" cy="149.80" r="1.15"/><circle cx="359.64" cy="149.66" r="1.15"/><circle cx="361.09" cy="149.53" r="1.15"/><circle cx="362.87" cy="149.55" r="1.15"/><circle cx="364.49" cy="149.80" r="1.15"/><circle cx="366.15" cy="149.96" r="1.15"/><circle cx="367.95" cy="149.86" r="1.15"/><circle cx="357.96" cy="150.69" r="1.15"/><circle cx="359.86" cy="151.16" r="1.15"/><circle cx="361.40" cy="150.92" r="1.15"/><circle cx="362.81" cy="151.18" r="1.15"/><circle cx="364.49" cy="151.05" r="1.15"/><circle cx="366.15" cy="151.03" r="1.15"/><circle cx="367.81" cy="150.86" r="1.15"/><circle cx="359.27" cy="152.05" r="1.15"/><circle cx="361.17" cy="152.13" r="1.15"/><circle cx="362.84" cy="152.13" r="1.15"/><circle cx="364.60" cy="152.16" r="1.15"/><circle cx="366.91" cy="152.21" r="1.15"/><circle cx="359.86" cy="153.23" r="1.15"/><circle cx="361.66" cy="153.38" r="1.15"/><circle cx="363.98" cy="153.25" r="1.15"/><circle cx="366.08" cy="153.25" r="1.15"/><circle cx="360.61" cy="154.17" r="1.15"/><circle cx="362.99" cy="154.27" r="1.15"/><circle cx="365.27" cy="154.50" r="1.15"/></g>
<path d="M376.7 144 H390.1" stroke="#d42060" stroke-width="1.5"/>
<path d="M383.5 144 v2" stroke="#d42060" stroke-width="1.4"/>
<path d="M47.20 292.80 A33 33 0 0 1 80.15 324.06 L63.78 324.93 A16.6 16.6 0 0 0 47.20 309.20Z" fill="#050505" stroke="#050505" stroke-width="0.2"/>
<path d="M80.15 324.06 A33 33 0 0 1 56.83 357.36 L52.05 341.68 A16.6 16.6 0 0 0 63.78 324.93Z" fill="#efe8cc" stroke="#efe8cc" stroke-width="0.2"/>
<path d="M56.83 357.36 A33 33 0 0 1 18.73 342.48 L32.88 334.19 A16.6 16.6 0 0 0 52.05 341.68Z" fill="#cdbd80" stroke="#cdbd80" stroke-width="0.2"/>
<path d="M18.73 342.48 A33 33 0 0 1 19.05 308.58 L33.04 317.14 A16.6 16.6 0 0 0 32.88 334.19Z" fill="#8e7e3a" stroke="#8e7e3a" stroke-width="0.2"/>
<path d="M19.05 308.58 A33 33 0 0 1 47.20 292.80 L47.20 309.20 A16.6 16.6 0 0 0 33.04 317.14Z" fill="#a76d2d" stroke="#a76d2d" stroke-width="0.2"/>
<circle cx="47.2" cy="325.8" r="33" fill="none" stroke="#222" stroke-width="0.7"/>
<circle cx="47.2" cy="325.8" r="16.6" fill="none" stroke="#222" stroke-width="0.7"/>
<text x="60.6" y="312.2" font-size="5.2" fill="#fff" font-weight="normal" font-family='"Liberation Serif", serif' text-anchor="start" >24.16%</text>
<text x="61.5" y="340.2" font-size="5.2" fill="#333" font-weight="normal" font-family='"Liberation Serif", serif' text-anchor="start" >21.12%</text>
<text x="33.4" y="350.2" font-size="5.2" fill="#ece4c4" font-weight="normal" font-family='"Liberation Serif", serif' text-anchor="start" >21.28%</text>
<text x="15.2" y="328.4" font-size="5.2" fill="#f5f0e0" font-weight="normal" font-family='"Liberation Serif", serif' text-anchor="start" >17.17%</text>
<text x="29.2" y="308.1" font-size="5.2" fill="#f5f0e0" font-weight="normal" font-family='"Liberation Serif", serif' text-anchor="start" >16.26%</text>
<text x="51.5" y="373.9" font-size="5.5" fill="#000" font-weight="bold" font-family='"Liberation Serif", serif' text-anchor="middle" >Total=658</text>
<rect x="71.5" y="264.75" width="6.2" height="2.9" fill="#050505" stroke="#222" stroke-width="0.9"/>
<text x="81.7" y="268.0" font-size="5.45" fill="#222" font-weight="normal" font-family='"Liberation Serif", serif' text-anchor="start" stroke="#222" stroke-width="0.08">LPH-CoV (-)</text>
<text x="123.8" y="268.0" font-size="5.45" fill="#222" font-weight="normal" font-family='"Liberation Serif", serif' text-anchor="start" stroke="#222" stroke-width="0.08">n=159</text>
<rect x="71.5" y="270.0" width="6.2" height="2.9" fill="#efe8cc" stroke="#222" stroke-width="0.9"/>
<text x="81.7" y="273.25" font-size="5.45" fill="#222" font-weight="normal" font-family='"Liberation Serif", serif' text-anchor="start" stroke="#222" stroke-width="0.08">LPH-CoV (+)</text>
<text x="123.8" y="273.25" font-size="5.45" fill="#222" font-weight="normal" font-family='"Liberation Serif", serif' text-anchor="start" stroke="#222" stroke-width="0.08">n=139</text>
<rect x="71.5" y="275.25" width="6.2" height="2.9" fill="#cdbd80" stroke="#222" stroke-width="0.9"/>
<text x="81.7" y="278.5" font-size="5.45" fill="#222" font-weight="normal" font-family='"Liberation Serif", serif' text-anchor="start" stroke="#222" stroke-width="0.08">LPH-CoV (++)</text>
<text x="124.39999999999999" y="278.5" font-size="5.45" fill="#222" font-weight="normal" font-family='"Liberation Serif", serif' text-anchor="start" stroke="#222" stroke-width="0.08">n=140</text>
<rect x="71.5" y="280.5" width="6.2" height="2.9" fill="#8e7e3a" stroke="#222" stroke-width="0.9"/>
<text x="81.7" y="283.75" font-size="5.45" fill="#222" font-weight="normal" font-family='"Liberation Serif", serif' text-anchor="start" stroke="#222" stroke-width="0.08">LPH-CoV (+++)</text>
<text x="126.0" y="283.75" font-size="5.45" fill="#222" font-weight="normal" font-family='"Liberation Serif", serif' text-anchor="start" stroke="#222" stroke-width="0.08">n=113</text>
<rect x="71.5" y="285.75" width="6.2" height="2.9" fill="#a76d2d" stroke="#222" stroke-width="0.9"/>
<text x="81.7" y="289.0" font-size="5.45" fill="#222" font-weight="normal" font-family='"Liberation Serif", serif' text-anchor="start" stroke="#222" stroke-width="0.08">LPH-CoV (++++)</text>
<text x="124.0" y="289.0" font-size="5.45" fill="#222" font-weight="normal" font-family='"Liberation Serif", serif' text-anchor="start" stroke="#222" stroke-width="0.08">n=107</text>
<path d="M191.90 294.50 A32.9 32.9 0 1 1 185.01 359.57 L188.55 343.04 A16.0 16.0 0 1 0 191.90 311.40Z" fill="#030303" stroke="#030303" stroke-width="0.2"/>
<path d="M185.01 359.57 A32.9 32.9 0 0 1 170.28 352.20 L181.39 339.46 A16.0 16.0 0 0 0 188.55 343.04Z" fill="#1b5a30" stroke="#1b5a30" stroke-width="0.2"/>
<path d="M170.28 352.20 A32.9 32.9 0 0 1 163.29 343.65 L177.99 335.30 A16.0 16.0 0 0 0 181.39 339.46Z" fill="#2c3a8e" stroke="#2c3a8e" stroke-width="0.2"/>
<path d="M163.29 343.65 A32.9 32.9 0 0 1 160.13 335.96 L176.45 331.56 A16.0 16.0 0 0 0 177.99 335.30Z" fill="#9b55a8" stroke="#9b55a8" stroke-width="0.2"/>
<path d="M160.13 335.96 A32.9 32.9 0 0 1 191.90 294.50 L191.90 311.40 A16.0 16.0 0 0 0 176.45 331.56Z" fill="#17809a" stroke="#17809a" stroke-width="0.2"/>
<circle cx="191.9" cy="327.4" r="32.9" fill="none" stroke="#222" stroke-width="0.6"/>
<circle cx="191.9" cy="327.4" r="16.0" fill="none" stroke="#222" stroke-width="0.6"/>
<text x="208.5" y="333.3" font-size="5.2" fill="#fff" font-weight="normal" font-family='"Liberation Serif", serif' text-anchor="start" >53.36%</text>
<text x="165.4" y="315.6" font-size="5.2" fill="#fff" font-weight="normal" font-family='"Liberation Serif", serif' text-anchor="start" >29.19%</text>
<text x="175" y="353" font-size="5.2" fill="#fff" font-weight="normal" font-family='"Liberation Serif", serif' text-anchor="start" >8.05%</text>
<text x="148.5" y="342.4" font-size="5.2" fill="#333" font-weight="normal" font-family='"Liberation Serif", serif' text-anchor="start" >4.03%</text>
<text x="151" y="352.1" font-size="5.2" fill="#333" font-weight="normal" font-family='"Liberation Serif", serif' text-anchor="start" >5.37%</text>
<text x="197.5" y="375.5" font-size="5.5" fill="#000" font-weight="bold" font-family='"Liberation Serif", serif' text-anchor="middle" >Total=298</text>
<rect x="214.1" y="261.2" width="6.4" height="3.2" fill="#030303" stroke="#1a1a1a" stroke-width="1.1"/>
<text x="225" y="264.6" font-size="5.45" fill="#222" font-weight="normal" font-family='"Liberation Serif", serif' text-anchor="start" stroke="#222" stroke-width="0.08">LPH-CoV (-)</text>
<text x="257.3" y="264.6" font-size="5.45" fill="#222" font-weight="normal" font-family='"Liberation Serif", serif' text-anchor="start" stroke="#222" stroke-width="0.08">n=159</text>
<rect x="214.1" y="267.7" width="6.4" height="3.2" fill="#1b5a30" stroke="#1a1a1a" stroke-width="1.1"/>
<text x="225" y="271.1" font-size="5.45" fill="#222" font-weight="normal" font-family='"Liberation Serif", serif' text-anchor="start" stroke="#222" stroke-width="0.08">HCoV-229E</text>
<text x="258.8" y="271.1" font-size="5.45" fill="#222" font-weight="normal" font-family='"Liberation Serif", serif' text-anchor="start" stroke="#222" stroke-width="0.08">n=24</text>
<rect x="214.1" y="274.2" width="6.4" height="3.2" fill="#2c3a8e" stroke="#1a1a1a" stroke-width="1.1"/>
<text x="225" y="277.6" font-size="5.45" fill="#222" font-weight="normal" font-family='"Liberation Serif", serif' text-anchor="start" stroke="#222" stroke-width="0.08">HCoV-NL63</text>
<text x="258.8" y="277.6" font-size="5.45" fill="#222" font-weight="normal" font-family='"Liberation Serif", serif' text-anchor="start" stroke="#222" stroke-width="0.08">n=16</text>
<rect x="214.1" y="280.7" width="6.4" height="3.2" fill="#9b55a8" stroke="#1a1a1a" stroke-width="1.1"/>
<text x="225" y="284.1" font-size="5.45" fill="#222" font-weight="normal" font-family='"Liberation Serif", serif' text-anchor="start" stroke="#222" stroke-width="0.08">HCoV-HKU1</text>
<text x="258.8" y="284.1" font-size="5.45" fill="#222" font-weight="normal" font-family='"Liberation Serif", serif' text-anchor="start" stroke="#222" stroke-width="0.08">n=12</text>
<rect x="214.1" y="287.2" width="6.4" height="3.2" fill="#17809a" stroke="#1a1a1a" stroke-width="1.1"/>
<text x="225" y="290.6" font-size="5.45" fill="#222" font-weight="normal" font-family='"Liberation Serif", serif' text-anchor="start" stroke="#222" stroke-width="0.08">HCoV-OC43</text>
<text x="258.8" y="290.6" font-size="5.45" fill="#222" font-weight="normal" font-family='"Liberation Serif", serif' text-anchor="start" stroke="#222" stroke-width="0.08">n=87</text>
<path d="M319.00 292.50 A33.0 33.0 0 0 1 351.95 323.76 L335.68 324.62 A16.7 16.7 0 0 0 319.00 308.80Z" fill="#030303" stroke="#030303" stroke-width="0.2"/>
<path d="M351.95 323.76 A33.0 33.0 0 0 1 349.07 339.10 L334.21 332.38 A16.7 16.7 0 0 0 335.68 324.62Z" fill="#fbe6e6" stroke="#fbe6e6" stroke-width="0.2"/>
<path d="M349.07 339.10 A33.0 33.0 0 0 1 314.61 358.21 L316.78 342.05 A16.7 16.7 0 0 0 334.21 332.38Z" fill="#f2a3a3" stroke="#f2a3a3" stroke-width="0.2"/>
<path d="M314.61 358.21 A33.0 33.0 0 0 1 319.00 292.50 L319.00 308.80 A16.7 16.7 0 0 0 316.78 342.05Z" fill="#ef8585" stroke="#ef8585" stroke-width="0.2"/>
<circle cx="319.0" cy="325.5" r="33.0" fill="none" stroke="#4a1a1a" stroke-width="0.8"/>
<circle cx="319.0" cy="325.5" r="16.7" fill="none" stroke="#4a1a1a" stroke-width="0.8"/>
<text x="329.4" y="309.5" font-size="5.2" fill="#fff" font-weight="normal" font-family='"Liberation Serif", serif' text-anchor="start" >24.16%</text>
<text x="336.7" y="330.6" font-size="5.2" fill="#333" font-weight="normal" font-family='"Liberation Serif", serif' text-anchor="start" >7.60%</text>
<text x="317.4" y="348" font-size="5.2" fill="#fff" font-weight="normal" font-family='"Liberation Serif", serif' text-anchor="start" >20.36%</text>
<text x="288" y="326.5" font-size="5.2" fill="#fff" font-weight="normal" font-family='"Liberation Serif", serif' text-anchor="start" >47.87%</text>
<text x="323.8" y="372" font-size="5.5" fill="#000" font-weight="bold" font-family='"Liberation Serif", serif' text-anchor="middle" >Total=658</text>
<rect x="339.9" y="267.3" width="6.4" height="3.0" fill="#030303" stroke="#3a2020" stroke-width="1.0"/>
<text x="350.7" y="270.6" font-size="5.45" fill="#222" font-weight="normal" font-family='"Liberation Serif", serif' text-anchor="start" stroke="#222" stroke-width="0.08">LPH-CoV (-)</text>
<text x="385.2" y="270.6" font-size="5.45" fill="#222" font-weight="normal" font-family='"Liberation Serif", serif' text-anchor="start" stroke="#222" stroke-width="0.08">n=159</text>
<rect x="339.9" y="273.6" width="6.4" height="3.0" fill="#fbe6e6" stroke="#3a2020" stroke-width="1.0"/>
<text x="352.8" y="276.90000000000003" font-size="5.45" fill="#222" font-weight="normal" font-family='"Liberation Serif", serif' text-anchor="start" stroke="#222" stroke-width="0.08">1HCoV (+)</text>
<text x="385.7" y="276.90000000000003" font-size="5.45" fill="#222" font-weight="normal" font-family='"Liberation Serif", serif' text-anchor="start" stroke="#222" stroke-width="0.08">n=50</text>
<rect x="339.9" y="279.90000000000003" width="6.4" height="3.0" fill="#f2a3a3" stroke="#3a2020" stroke-width="1.0"/>
<text x="352.8" y="283.20000000000005" font-size="5.45" fill="#222" font-weight="normal" font-family='"Liberation Serif", serif' text-anchor="start" stroke="#222" stroke-width="0.08">2HCoV (+)</text>
<text x="385.7" y="283.20000000000005" font-size="5.45" fill="#222" font-weight="normal" font-family='"Liberation Serif", serif' text-anchor="start" stroke="#222" stroke-width="0.08">n=134</text>
<rect x="339.9" y="286.2" width="6.4" height="3.0" fill="#ef8585" stroke="#3a2020" stroke-width="1.0"/>
<text x="352.8" y="289.5" font-size="5.45" fill="#222" font-weight="normal" font-family='"Liberation Serif", serif' text-anchor="start" stroke="#222" stroke-width="0.08">≥ 3HCoV (+)</text>
<text x="385.2" y="289.5" font-size="5.45" fill="#222" font-weight="normal" font-family='"Liberation Serif", serif' text-anchor="start" stroke="#222" stroke-width="0.08">n=315</text>
</svg></body></html>
